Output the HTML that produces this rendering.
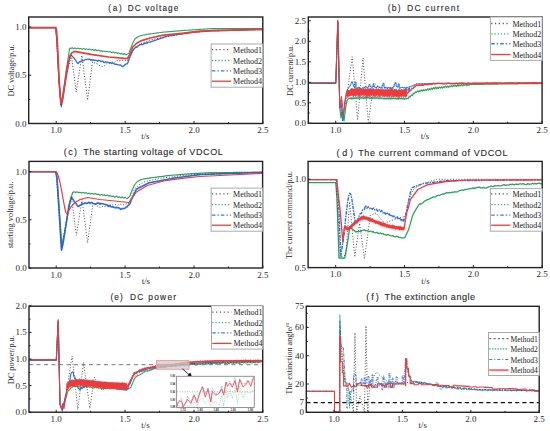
<!DOCTYPE html><html><head><meta charset="utf-8"><style>html,body{margin:0;padding:0;background:#fff;width:550px;height:431px;overflow:hidden}svg{display:block}</style></head><body>
<svg width="550" height="431" viewBox="0 0 550 431">
<rect width="550" height="431" fill="#fff"/>
<defs><clipPath id="ca"><rect x="28.7" y="17" width="234.1" height="106.5"/></clipPath></defs>
<g clip-path="url(#ca)">
<polyline points="28.7,27.7 30.21,27.7 31.71,27.7 33.22,27.7 34.72,27.7 36.23,27.7 37.73,27.7 39.24,27.7 40.74,27.7 42.25,27.7 43.76,27.7 45.26,27.7 46.77,27.7 48.27,27.7 49.78,27.7 51.28,27.7 52.79,27.7 54.29,27.7 55.8,27.7 57,42 59,80 61,104 63,95 64.5,83.5 66,72 67.85,60.05 69.7,48.1 71.03,48.55 72.35,47.76 73.67,48.82 75,47.89 76.46,48.84 77.92,48.08 79.38,48.96 80.83,48.34 82.29,49.35 83.75,48.47 85.21,49.39 86.67,48.88 88.12,49.62 89.58,48.94 91.04,50.07 92.5,49.44 93.96,50.49 95.42,49.5 96.88,50.75 98.33,50.01 99.79,50.96 101.25,50.6 102.71,51.47 104.17,50.97 105.62,51.73 107.08,51.29 108.54,52.06 110,51.59 111.45,52.62 112.9,51.89 114.35,53.08 115.8,52.4 117.25,53.5 118.7,52.82 120.15,53.92 121.6,53.39 123.05,54.55 124.5,53.57 125.95,54.93 127.4,54.11 129,52.85 131,47.5 133,42.5 135,39 136.25,38 137.5,37 139.25,36.3 141,35.6 142.57,35.27 144.15,34.95 145.73,34.62 147.3,34.3 148.78,34.1 150.26,33.9 151.75,33.7 153.23,33.5 154.71,33.3 156.19,33.1 157.67,32.9 159.15,32.7 160.64,32.5 162.12,32.3 163.6,32.1 165.12,31.98 166.63,31.85 168.15,31.73 169.67,31.6 171.18,31.48 172.7,31.35 174.22,31.23 175.73,31.1 177.25,30.98 178.77,30.85 180.28,30.73 181.8,30.6 183.32,30.5 184.83,30.4 186.35,30.3 187.87,30.2 189.38,30.1 190.9,30 192.42,29.9 193.93,29.8 195.45,29.7 196.97,29.6 198.48,29.5 200,29.4 201.47,29.3 202.95,29.2 204.43,29.1 205.9,29 207.38,28.9 208.85,28.8 210.33,28.7 211.8,28.6 213.3,28.6 214.8,28.59 216.3,28.59 217.8,28.59 219.3,28.59 220.8,28.58 222.3,28.58 223.8,28.58 225.3,28.57 226.8,28.57 228.3,28.57 229.8,28.56 231.3,28.56 232.8,28.56 234.3,28.56 235.8,28.55 237.3,28.55 238.8,28.55 240.3,28.54 241.8,28.54 243.3,28.54 244.8,28.54 246.3,28.53 247.8,28.53 249.3,28.53 250.8,28.52 252.3,28.52 253.8,28.52 255.3,28.51 256.8,28.51 258.3,28.51 259.8,28.51 261.3,28.5 262.8,28.5" fill="none" stroke="#2ea35c" stroke-width="1.1" stroke-linejoin="round"/>
<polyline points="28.7,27.7 29.7,27.7 30.71,27.7 31.71,27.7 32.71,27.7 33.72,27.7 34.72,27.7 35.73,27.7 36.73,27.7 37.73,27.7 38.74,27.7 39.74,27.7 40.74,27.7 41.75,27.7 42.75,27.7 43.76,27.7 44.76,27.7 45.76,27.7 46.77,27.7 47.77,27.7 48.77,27.7 49.78,27.7 50.78,27.7 51.79,27.7 52.79,27.7 53.79,27.7 54.8,27.7 55.8,27.7 57,42 58,62 59,82 60.15,94.3 61.3,106.6 62.15,102.3 63,98 64,91.33 65,84.67 66,78 67,72.33 68,66.67 69,61 69.8,57.8 70.6,54.6 71.73,55.73 72.87,56.87 74,58 74.97,59.38 75.95,60.71 76.93,62.35 77.9,63.73 78.93,62.37 79.95,61.57 80.97,61.45 82,60.68 83,60.98 84,60.37 85,59.79 86,59.28 86.97,59.55 87.95,58.96 88.92,59.5 89.89,59.23 90.87,60.4 91.84,59.34 92.81,60.53 93.79,59.62 94.76,60.6 95.73,60.24 96.71,60.46 97.68,61.2 98.65,60.17 99.63,60.36 100.6,61.68 101.61,61.32 102.62,60.94 103.64,62.4 104.65,62.55 105.66,61.59 106.67,62.23 107.69,62.03 108.7,62.49 109.71,63.13 110.72,62.69 111.74,63.64 112.75,62.95 113.76,63.32 114.77,64.43 115.79,64.05 116.8,64.29 117.75,64.8 118.7,64.9 119.65,65.04 120.6,64.81 121.55,66.05 122.5,66.65 123.48,66.17 124.46,65.23 125.44,64.3 126.42,63.81 127.4,63.77 128.43,61.29 129.47,58.06 130.5,55.78 131.53,53.51 132.57,51.27 133.6,49.23 134.67,48.17 135.73,46.87 136.8,47.35 137.87,46.17 138.93,45.66 140,44.61 141,44.62 142,44.29 143,44.55 144,43.33 145,43.68 146,42.88 147,43.33 148,42.13 149,42.19 150.02,42.14 151.03,41.79 152.05,41.43 153.07,41.08 154.08,40.72 155.1,40.37 156.12,40.01 157.13,39.66 158.15,39.3 159.17,38.94 160.18,38.59 161.2,38.23 162.22,37.88 163.23,37.52 164.25,37.17 165.27,36.81 166.28,36.46 167.3,36.1 168.28,35.95 169.27,35.8 170.25,35.65 171.23,35.5 172.22,35.35 173.2,35.2 174.18,35.05 175.17,34.9 176.15,34.75 177.13,34.6 178.12,34.45 179.1,34.3 180.08,34.15 181.07,34 182.05,33.85 183.03,33.7 184.02,33.55 185,33.4 185.98,33.25 186.97,33.1 187.95,32.95 188.93,32.8 189.92,32.65 190.9,32.5 191.91,32.42 192.91,32.34 193.92,32.26 194.92,32.18 195.93,32.11 196.93,32.03 197.94,31.95 198.94,31.87 199.95,31.79 200.95,31.71 201.96,31.63 202.96,31.55 203.97,31.47 204.97,31.39 205.98,31.32 206.98,31.24 207.99,31.16 208.99,31.08 210,31 211,30.97 211.99,30.94 212.99,30.92 213.98,30.89 214.98,30.86 215.98,30.83 216.97,30.8 217.97,30.77 218.97,30.75 219.96,30.72 220.96,30.69 221.95,30.66 222.95,30.63 223.95,30.6 224.94,30.58 225.94,30.55 226.94,30.52 227.93,30.49 228.93,30.46 229.92,30.43 230.92,30.41 231.92,30.38 232.91,30.35 233.91,30.32 234.91,30.29 235.9,30.26 236.9,30.24 237.89,30.21 238.89,30.18 239.89,30.15 240.88,30.12 241.88,30.09 242.88,30.07 243.87,30.04 244.87,30.01 245.86,29.98 246.86,29.95 247.86,29.92 248.85,29.9 249.85,29.87 250.85,29.84 251.84,29.81 252.84,29.78 253.83,29.75 254.83,29.73 255.83,29.7 256.82,29.67 257.82,29.64 258.82,29.61 259.81,29.58 260.81,29.56 261.8,29.53 262.8,29.5" fill="none" stroke="#2d6de0" stroke-width="1.3" stroke-linejoin="round"/>
<polyline points="28.7,27.7 30.64,27.7 32.57,27.7 34.51,27.7 36.44,27.7 38.38,27.7 40.31,27.7 42.25,27.7 44.19,27.7 46.12,27.7 48.06,27.7 49.99,27.7 51.93,27.7 53.86,27.7 55.8,27.7 57.4,53.85 59,80 61,106 63.5,91.5 66,77 67.8,69.8 69.6,62.6 71.4,55.4 73.8,73.7 76.2,92 78.1,79.8 80,67.6 81.9,55.4 83.8,70.3 85.7,85.2 87.6,100.1 90.05,81 92.5,61.9 94.95,63.15 97.4,64.01 99.8,65.5 102.2,66.29 104.37,65.73 106.53,63.83 108.7,63.07 110.72,62.34 112.75,61.86 114.78,62.07 116.8,60.51 118.92,60.99 121.04,60.32 123.16,60.29 125.28,60.35 127.4,60.84 129.27,57.04 131.13,53.43 133,50 134.75,48.5 136.5,47 138.25,45.5 140,44 142,43.2 144,42.4 146,41.6 148,40.8 150,40 152,39.6 154,39.2 156,38.8 158,38.4 160,38 162,37.6 164,37.2 166,36.8 168,36.4 170,36 172,35.7 174,35.4 176,35.1 178,34.8 180,34.5 182,34.2 184,33.9 186,33.6 188,33.3 190,33 192,32.75 194,32.5 196,32.25 198,32 200,31.75 202,31.5 204,31.25 206,31 208,30.75 210,30.5 212.03,30.45 214.06,30.41 216.09,30.36 218.12,30.32 220.15,30.27 222.18,30.22 224.22,30.18 226.25,30.13 228.28,30.08 230.31,30.04 232.34,29.99 234.37,29.95 236.4,29.9 238.43,29.85 240.46,29.81 242.49,29.76 244.52,29.72 246.55,29.67 248.58,29.62 250.62,29.58 252.65,29.53 254.68,29.48 256.71,29.44 258.74,29.39 260.77,29.35 262.8,29.3" fill="none" stroke="#444" stroke-width="1.0" stroke-dasharray="1 1.8" stroke-linejoin="round"/>
<polyline points="28.7,27.7 55.8,27.7 56.5,30 57.5,45 59,78 60.2,97 61,102.8 62,101 63.5,92 65,82 66.5,72 68,63 70,56 72,52.6 74.6,51.4 80,52.3 92.5,54.6 108.7,57 127.4,58.7 130,54 132.7,47 137,43 141.8,40.6 150,38 163.6,35.2 181.8,33.4 200,31.2 211.8,30.6 262.8,29.3" fill="none" stroke="#ee3a3a" stroke-width="1.7" stroke-linejoin="round"/>
</g>
<rect x="28.7" y="17" width="234.1" height="106.5" fill="none" stroke="#222" stroke-width="1.4"/>
<line x1="56.2" y1="123.5" x2="56.2" y2="121" stroke="#222" stroke-width="1"/>
<text x="56.2" y="133.2" font-family="Liberation Serif" font-size="9" text-anchor="middle" fill="#2a2a2a" >1.0</text>
<line x1="125.1" y1="123.5" x2="125.1" y2="121" stroke="#222" stroke-width="1"/>
<text x="125.1" y="133.2" font-family="Liberation Serif" font-size="9" text-anchor="middle" fill="#2a2a2a" >1.5</text>
<line x1="194" y1="123.5" x2="194" y2="121" stroke="#222" stroke-width="1"/>
<text x="194" y="133.2" font-family="Liberation Serif" font-size="9" text-anchor="middle" fill="#2a2a2a" >2.0</text>
<line x1="262.9" y1="123.5" x2="262.9" y2="121" stroke="#222" stroke-width="1"/>
<text x="262.9" y="133.2" font-family="Liberation Serif" font-size="9" text-anchor="middle" fill="#2a2a2a" >2.5</text>
<line x1="90.65" y1="123.5" x2="90.65" y2="122" stroke="#222" stroke-width="1"/>
<line x1="159.55" y1="123.5" x2="159.55" y2="122" stroke="#222" stroke-width="1"/>
<line x1="228.45" y1="123.5" x2="228.45" y2="122" stroke="#222" stroke-width="1"/>
<line x1="28.7" y1="123.5" x2="31.2" y2="123.5" stroke="#222" stroke-width="1"/>
<text x="26.5" y="126.5" font-family="Liberation Serif" font-size="9" text-anchor="end" fill="#2a2a2a" >0.0</text>
<line x1="28.7" y1="75.25" x2="31.2" y2="75.25" stroke="#222" stroke-width="1"/>
<text x="26.5" y="78.25" font-family="Liberation Serif" font-size="9" text-anchor="end" fill="#2a2a2a" >0.5</text>
<line x1="28.7" y1="27" x2="31.2" y2="27" stroke="#222" stroke-width="1"/>
<text x="26.5" y="30" font-family="Liberation Serif" font-size="9" text-anchor="end" fill="#2a2a2a" >1.0</text>
<line x1="28.7" y1="99.38" x2="30.2" y2="99.38" stroke="#222" stroke-width="1"/>
<line x1="28.7" y1="51.12" x2="30.2" y2="51.12" stroke="#222" stroke-width="1"/>
<text x="13.9" y="70.5" font-family="Liberation Serif" font-size="8.2" text-anchor="middle" fill="#2a2a2a" transform="rotate(-90 13.9 70.5)">DC voltage/p.u.</text>
<text x="145.4" y="139.1" font-family="Liberation Serif" font-size="8.8" text-anchor="middle" fill="#2a2a2a" >t/s</text>
<rect x="211.1" y="44" width="51.7" height="43.2" fill="#fff" stroke="#aaa" stroke-width="1"/>
<line x1="211.9" y1="49.6" x2="231.1" y2="49.6" stroke="#555" stroke-width="1.3" stroke-dasharray="1.2 2.6"/>
<text x="233.1" y="52.6" font-family="Liberation Serif" font-size="8.0" text-anchor="start" fill="#222" >Method1</text>
<line x1="211.9" y1="60.5" x2="231.1" y2="60.5" stroke="#3cb878" stroke-width="1.3" stroke-dasharray="1.3 1.9"/>
<text x="233.1" y="63.5" font-family="Liberation Serif" font-size="8.0" text-anchor="start" fill="#222" >Method2</text>
<line x1="211.9" y1="70.9" x2="231.1" y2="70.9" stroke="#3a7ae8" stroke-width="1.4" stroke-dasharray="3.5 2 1.5 2"/>
<text x="233.1" y="73.9" font-family="Liberation Serif" font-size="8.0" text-anchor="start" fill="#222" >Method3</text>
<line x1="211.9" y1="81.2" x2="231.1" y2="81.2" stroke="#ee3a3a" stroke-width="1.3"/>
<text x="233.1" y="84.2" font-family="Liberation Serif" font-size="8.0" text-anchor="start" fill="#222" >Method4</text>
<text x="108.3" y="10.9" font-family="Liberation Sans" font-size="8.2" fill="#2a2a2a" stroke="#2a2a2a" stroke-width="0.1" textLength="13.4" lengthAdjust="spacing">(a)</text>
<text x="127.7" y="10.9" font-family="Liberation Sans" font-size="8.2" fill="#2a2a2a" stroke="#2a2a2a" stroke-width="0.12" textLength="50.6" lengthAdjust="spacing">DC voltage</text>
<defs><clipPath id="cb"><rect x="308.3" y="17" width="233.8" height="106.3"/></clipPath></defs>
<g clip-path="url(#cb)">
<polyline points="308.3,83.3 309.28,83.3 310.26,83.3 311.25,83.3 312.23,83.3 313.21,83.3 314.19,83.3 315.18,83.3 316.16,83.3 317.14,83.3 318.12,83.3 319.1,83.3 320.09,83.3 321.07,83.3 322.05,83.3 323.03,83.3 324.01,83.3 325,83.3 325.98,83.3 326.96,83.3 327.94,83.3 328.93,83.3 329.91,83.3 330.89,83.3 331.87,83.3 332.85,83.3 333.84,83.3 334.82,83.3 335.8,83.3 336.8,52.65 337.8,22 338.8,65 339.8,108 341,118 341.75,114 342.5,110 343.25,115.5 344,121 345,113 346,105.45 347,101.02 348,99.2 349,97.82 350,98.86 351,97.54 352,99.06 353,97.57 354,98.78 355,97.6 356,98.4 357,97.41 358,98.59 359,97.46 360,98.59 361,97.33 362,98.33 363,97.48 364,98.78 365,97.14 366,98.75 367,97.25 368,98.34 369,97.44 370,98.63 371,97.6 372,98.91 373,97.5 374,98.52 375,97.3 376,98.55 377,97.28 378,98.76 379,97.52 380,98.75 381.01,97.59 382.02,98.69 383.03,97.86 384.04,99.09 385.06,97.79 386.07,99.07 387.08,97.83 388.09,99.2 389.1,97.49 390.11,99.12 391.12,97.59 392.13,99.05 393.14,97.64 394.16,98.83 395.17,97.81 396.18,99.24 397.19,97.98 398.2,99.33 399.21,97.64 400.22,99.08 401.23,97.95 402.24,99.13 403.26,97.97 404.27,99.45 405.28,98 406.29,98.96 407.3,98.19 408.31,98.59 409.32,96.19 410.33,96.96 411.34,94.95 412.36,95.48 413.37,93.3 414.38,93.79 415.39,91.87 416.4,92.46 417.41,90.9 418.41,91.86 419.42,90.75 420.42,91.55 421.43,89.94 422.43,91.15 423.44,89.72 424.44,90.73 425.45,89.58 426.46,90.2 427.46,88.8 428.47,90.18 429.47,88.64 430.48,89.73 431.48,88.08 432.49,89.45 433.49,87.52 434.5,88.78 435.51,87.18 436.52,88.83 437.53,87.15 438.54,88.55 439.56,86.96 440.57,88.03 441.58,86.85 442.59,88.06 443.6,86.65 444.61,87.38 445.62,86.06 446.63,87.51 447.64,85.99 448.66,87.3 449.67,85.98 450.68,86.74 451.69,85.61 452.7,86.59 453.71,85.46 454.72,86.23 455.73,85.21 456.74,86.51 457.76,84.69 458.77,86.26 459.78,84.8 460.79,85.83 461.8,84.37 462.81,85.81 463.82,84.33 464.83,85.38 465.84,84.44 466.86,85.65 467.87,83.96 468.88,85.5 469.89,83.9 470.9,84.5 471.9,84.48 472.91,84.47 473.91,84.45 474.91,84.43 475.92,84.41 476.92,84.4 477.92,84.38 478.93,84.36 479.93,84.34 480.93,84.33 481.94,84.31 482.94,84.29 483.94,84.28 484.95,84.26 485.95,84.24 486.96,84.22 487.96,84.21 488.96,84.19 489.97,84.17 490.97,84.16 491.97,84.14 492.98,84.12 493.98,84.1 494.98,84.09 495.99,84.07 496.99,84.05 497.99,84.03 499,84.02 500,84 501,83.99 502,83.98 503,83.96 504,83.95 505,83.94 506,83.93 507,83.92 508,83.9 509,83.89 510,83.88 511,83.87 512,83.86 513,83.85 514,83.83 515,83.82 516,83.81 517,83.8 518,83.79 519,83.77 520,83.76 521,83.75 522,83.74 523,83.73 524,83.71 525,83.7 526,83.69 527,83.68 528,83.67 529,83.65 530,83.64 531,83.63 532,83.62 533,83.61 534,83.6 535,83.58 536,83.57 537,83.56 538,83.55 539,83.54 540,83.52 541,83.51 542,83.5" fill="none" stroke="#2ea35c" stroke-width="1.2" stroke-linejoin="round"/>
<polyline points="308.3,83 309.28,83 310.26,83 311.25,83 312.23,83 313.21,83 314.19,83 315.18,83 316.16,83 317.14,83 318.12,83 319.1,83 320.09,83 321.07,83 322.05,83 323.03,83 324.01,83 325,83 325.98,83 326.96,83 327.94,83 328.93,83 329.91,83 330.89,83 331.87,83 332.85,83 333.84,83 334.82,83 335.8,83 336.8,52.5 337.8,22 338.8,65 339.8,108 341,100 341.85,110.5 342.7,121 343.85,110.5 345,100 346,95 347,90 348,88.67 349,87.33 350,86 351,83.75 352,81.5 353,84.25 354,87 355,87 355,82.04 356,82.04 356,88.28 357,88.28 357,88.22 358,88.22 358,87.3 359,87.3 359,87.46 360,87.46 360,89.26 361,89.26 361,89.24 362,89.24 362,87.9 363,87.9 363,87.94 364,87.94 364,87.52 365,87.52 365,86.81 366,86.81 366,86.9 367,86.9 367,87.93 368,87.93 368,86.63 369,86.63 369,84.54 370,84.54 370,86.45 371,86.45 371,87.21 372,87.21 372,87.06 373,87.06 373,84.29 374,84.29 374,86.88 375,86.88 375,87.27 376,87.27 376,87.48 377,87.48 377,86.54 378,86.54 378,86.97 379,86.97 379,87.04 380,87.04 380,87.92 381.01,87.92 381.01,87.82 382.02,87.82 382.02,85.46 383.03,85.46 383.03,83.29 384.04,83.29 384.04,87.47 385.06,87.47 385.06,87.17 386.07,87.17 386.07,88.01 387.08,88.01 387.08,87.91 388.09,87.91 388.09,87.42 389.1,87.42 389.1,88.19 390.11,88.19 390.11,87.38 391.12,87.38 391.12,90.31 392.13,90.31 392.13,87.64 393.14,87.64 393.14,86.72 394.16,86.72 394.16,84.05 395.17,84.05 395.17,82.7 396.18,82.7 396.18,86.28 397.19,86.28 397.19,87.09 398.2,87.09 398.2,83.93 399.21,83.93 399.21,88.3 400.22,88.3 400.22,87.76 401.23,87.76 401.23,87.19 402.24,87.19 402.24,87.5 403.26,87.5 403.26,88.06 404.27,88.06 404.27,87.41 405.28,87.41 405.28,90.02 406.29,90.02 406.29,87.07 407.3,87.07 407.3,87.65 408.31,87.65 408.31,90.83 409.32,90.83 409.32,86.26 410.33,86.53 411.34,86.11 412.36,85.69 413.37,85.27 414.38,84.84 415.39,84.42 416.4,84 417.41,83.96 418.41,83.92 419.42,83.88 420.42,83.84 421.43,83.81 422.43,83.77 423.44,83.73 424.44,83.69 425.45,83.65 426.46,83.61 427.46,83.57 428.47,83.53 429.47,83.49 430.48,83.46 431.48,83.42 432.49,83.38 433.49,83.34 434.5,83.3 435.5,83.3 436.49,83.3 437.49,83.3 438.48,83.3 439.48,83.3 440.47,83.29 441.47,83.29 442.46,83.29 443.46,83.29 444.45,83.29 445.45,83.29 446.44,83.29 447.44,83.29 448.44,83.29 449.43,83.29 450.43,83.29 451.42,83.28 452.42,83.28 453.41,83.28 454.41,83.28 455.4,83.28 456.4,83.28 457.39,83.28 458.39,83.28 459.38,83.28 460.38,83.28 461.38,83.28 462.37,83.27 463.37,83.27 464.36,83.27 465.36,83.27 466.35,83.27 467.35,83.27 468.34,83.27 469.34,83.27 470.33,83.27 471.33,83.27 472.32,83.26 473.32,83.26 474.31,83.26 475.31,83.26 476.31,83.26 477.3,83.26 478.3,83.26 479.29,83.26 480.29,83.26 481.28,83.26 482.28,83.26 483.27,83.25 484.27,83.25 485.26,83.25 486.26,83.25 487.25,83.25 488.25,83.25 489.25,83.25 490.24,83.25 491.24,83.25 492.23,83.25 493.23,83.25 494.22,83.24 495.22,83.24 496.21,83.24 497.21,83.24 498.2,83.24 499.2,83.24 500.19,83.24 501.19,83.24 502.19,83.24 503.18,83.24 504.18,83.24 505.17,83.23 506.17,83.23 507.16,83.23 508.16,83.23 509.15,83.23 510.15,83.23 511.14,83.23 512.14,83.23 513.13,83.23 514.13,83.23 515.12,83.22 516.12,83.22 517.12,83.22 518.11,83.22 519.11,83.22 520.1,83.22 521.1,83.22 522.09,83.22 523.09,83.22 524.08,83.22 525.08,83.22 526.07,83.21 527.07,83.21 528.06,83.21 529.06,83.21 530.06,83.21 531.05,83.21 532.05,83.21 533.04,83.21 534.04,83.21 535.03,83.21 536.03,83.21 537.02,83.2 538.02,83.2 539.01,83.2 540.01,83.2 541,83.2 542,83.2" fill="none" stroke="#2d6de0" stroke-width="1.0" stroke-linejoin="round"/>
<polyline points="352,95.24 353.22,96.78 354.43,95.27 355.65,96.39 356.87,95.43 358.09,96.57 359.3,95.48 360.52,96.44 361.74,95.66 362.96,96.61 364.17,95.66 365.39,96.63 366.61,95.77 367.83,96.47 369.04,95.46 370.26,96.65 371.48,95.57 372.7,96.82 373.91,95.66 375.13,96.51 376.35,95.48 377.57,96.79 378.78,95.56 380,96.82 381.18,95.43 382.36,96.72 383.55,95.56 384.73,96.75 385.91,95.67 387.09,96.92 388.27,95.82 389.45,96.67 390.64,95.78 391.82,97 393,95.75 394.18,96.9 395.36,95.75 396.55,96.8 397.73,96 398.91,96.89 400.09,95.72 401.27,96.86 402.45,96.08 403.64,96.84 404.82,96.15 406,96.95" fill="none" stroke="#2d6de0" stroke-width="0.9" stroke-linejoin="round"/>
<polyline points="308.3,83 335.8,83 337.8,22 339.8,108 343,115 347,95 352.2,56.7 357.6,120 363,58 368.3,122.5 373.8,82.8 380,88 407.3,90 416.4,84 434.5,83.5 542,83.2" fill="none" stroke="#444" stroke-width="0.9" stroke-dasharray="1 1.8" stroke-linejoin="round"/>
<polyline points="308.3,82.8 335.8,82.8 337.8,20 339.8,108.8 341.5,96.4 343.5,115 346.5,91.4 350,91 380,92.5 407.3,93 416.4,85.5 434.5,83.6 480,83.3 542,82.9" fill="none" stroke="#ee3a3a" stroke-width="1.0" stroke-linejoin="round"/>
<polygon points="347,91.17 347.83,90.33 348.67,90.36 349.5,90.38 350.33,89.96 351.17,88.01 352,89.05 352.8,88.33 353.6,89.12 354.4,88.5 355.2,89.06 356,88.04 356.8,89.22 357.6,87.8 358.4,88.95 359.2,88.03 360,89.09 360.8,88.52 361.6,88.87 362.4,89.13 363.2,88.87 364,88.29 364.8,89.17 365.6,88.84 366.4,89.18 367.2,88.29 368,89.08 368.8,88.36 369.6,89.12 370.4,87.98 371.2,89.25 372,88.16 372.8,89.53 373.6,88.17 374.4,89.68 375.2,89.02 376,89.62 376.8,88.23 377.6,89.5 378.4,88.56 379.2,89.4 380,88.99 380.79,89.75 381.59,88.86 382.38,89.85 383.18,88.87 383.97,89.97 384.76,89.44 385.56,89.54 386.35,89.21 387.15,89.71 387.94,89.07 388.74,89.59 389.53,89.34 390.32,90 391.12,88.39 391.91,89.87 392.71,89.43 393.5,90.19 394.29,89.08 395.09,89.9 395.88,89.03 396.68,89.89 397.47,90.25 398.26,89.94 399.06,89.87 399.85,90.02 400.65,89.7 401.44,90.18 402.24,89.85 403.03,89.99 403.82,89.4 404.62,90.28 405.41,89.02 406.21,90.38 407,89.24 407,95.95 406.21,96.67 405.41,95.99 404.62,96.25 403.82,96.23 403.03,95.86 402.24,96 401.44,96.85 400.65,95.93 399.85,96.32 399.06,95.97 398.26,97.44 397.47,95.72 396.68,97 395.88,95.84 395.09,96.47 394.29,95.65 393.5,96.71 392.71,95.9 391.91,95.59 391.12,95.83 390.32,96.07 389.53,95.9 388.74,96.41 387.94,95.81 387.15,96.53 386.35,95.72 385.56,96.1 384.76,95.92 383.97,96.95 383.18,95.45 382.38,96.09 381.59,95.35 380.79,95.46 380,95.84 379.2,97.04 378.4,95.43 377.6,95.31 376.8,95.23 376,96.56 375.2,95.24 374.4,96.57 373.6,95.64 372.8,95.2 372,95.37 371.2,95.42 370.4,95.32 369.6,96.72 368.8,95.05 368,96.72 367.2,95.42 366.4,96.52 365.6,95.18 364.8,95.54 364,94.98 363.2,95.58 362.4,94.89 361.6,94.92 360.8,95.23 360,96.14 359.2,95.22 358.4,96.32 357.6,95.02 356.8,94.84 356,95.12 355.2,94.94 354.4,95.24 353.6,96.42 352.8,94.96 352,95.76 351.17,95.45 350.33,95.92 349.5,96.25 348.67,96.22 347.83,96.73 347,97.68" fill="#ee3a3a" stroke="#ee3a3a" stroke-width="0.5" stroke-linejoin="round"/>
<polyline points="407,93.21 408.18,92.4 409.35,90.81 410.52,90.69 411.7,88.94 412.88,88.48 414.05,86.97 415.22,86.7 416.4,85.15 417.61,85.58 418.81,85.47 420.02,85.39 421.23,84.93 422.43,85.23 423.64,85.23 424.85,84.23 426.05,84.5 427.26,84.82 428.47,84.47 429.67,84.05 430.88,83.78 432.09,84.31 433.29,83.31 434.5,83.86 435.7,83.94 436.89,83.24 438.09,83.4 439.29,83.37 440.49,83.6 441.68,83.42 442.88,83.94 444.08,83.96 445.28,83.35 446.47,83.92 447.67,83.08 448.87,83.1 450.07,83.66 451.26,83.79 452.46,83.8 453.66,83.97 454.86,83.83 456.05,83.22 457.25,83.69 458.45,83.87 459.64,83.03 460.84,83.42 462.04,83.07 463.24,83.05 464.43,83.38 465.63,83.57 466.83,83.86 468.03,83.01 469.22,83.38 470.42,83.86 471.62,83.62 472.82,83.38 474.01,83.08 475.21,83.46 476.41,83.08 477.61,83.46 478.8,83.46 480,83.19 481.19,83.59 482.38,83.19 483.58,83.25 484.77,83.6 485.96,83.01 487.15,82.94 488.35,83.32 489.54,83.17 490.73,83.6 491.92,82.97 493.12,83.09 494.31,82.77 495.5,83.15 496.69,83 497.88,83.13 499.08,83.44 500.27,82.71 501.46,83.65 502.65,83.37 503.85,83.46 505.04,83.18 506.23,83.21 507.42,83.03 508.62,83.01 509.81,82.83 511,82.9 512.19,82.89 513.38,82.92 514.58,83.48 515.77,83.37 516.96,83.2 518.15,82.57 519.35,82.81 520.54,83.08 521.73,83.22 522.92,82.94 524.12,83.15 525.31,83.41 526.5,82.77 527.69,82.87 528.88,83.24 530.08,82.8 531.27,83.19 532.46,82.86 533.65,82.47 534.85,82.91 536.04,82.51 537.23,83.22 538.42,83.27 539.62,82.94 540.81,83.31 542,82.61" fill="none" stroke="#ee3a3a" stroke-width="1.3" stroke-linejoin="round"/>
</g>
<rect x="308.3" y="17" width="233.8" height="106.3" fill="none" stroke="#222" stroke-width="1.4"/>
<line x1="335.7" y1="123.3" x2="335.7" y2="120.8" stroke="#222" stroke-width="1"/>
<text x="335.7" y="133" font-family="Liberation Serif" font-size="9" text-anchor="middle" fill="#2a2a2a" >1.0</text>
<line x1="404.5" y1="123.3" x2="404.5" y2="120.8" stroke="#222" stroke-width="1"/>
<text x="404.5" y="133" font-family="Liberation Serif" font-size="9" text-anchor="middle" fill="#2a2a2a" >1.5</text>
<line x1="473.3" y1="123.3" x2="473.3" y2="120.8" stroke="#222" stroke-width="1"/>
<text x="473.3" y="133" font-family="Liberation Serif" font-size="9" text-anchor="middle" fill="#2a2a2a" >2.0</text>
<line x1="542.1" y1="123.3" x2="542.1" y2="120.8" stroke="#222" stroke-width="1"/>
<text x="542.1" y="133" font-family="Liberation Serif" font-size="9" text-anchor="middle" fill="#2a2a2a" >2.5</text>
<line x1="370.1" y1="123.3" x2="370.1" y2="121.8" stroke="#222" stroke-width="1"/>
<line x1="438.9" y1="123.3" x2="438.9" y2="121.8" stroke="#222" stroke-width="1"/>
<line x1="507.7" y1="123.3" x2="507.7" y2="121.8" stroke="#222" stroke-width="1"/>
<line x1="308.3" y1="123.3" x2="310.8" y2="123.3" stroke="#222" stroke-width="1"/>
<text x="306.1" y="126.3" font-family="Liberation Serif" font-size="9" text-anchor="end" fill="#2a2a2a" >0.0</text>
<line x1="308.3" y1="102.8" x2="310.8" y2="102.8" stroke="#222" stroke-width="1"/>
<text x="306.1" y="105.8" font-family="Liberation Serif" font-size="9" text-anchor="end" fill="#2a2a2a" >0.5</text>
<line x1="308.3" y1="82.3" x2="310.8" y2="82.3" stroke="#222" stroke-width="1"/>
<text x="306.1" y="85.3" font-family="Liberation Serif" font-size="9" text-anchor="end" fill="#2a2a2a" >1.0</text>
<line x1="308.3" y1="61.8" x2="310.8" y2="61.8" stroke="#222" stroke-width="1"/>
<text x="306.1" y="64.8" font-family="Liberation Serif" font-size="9" text-anchor="end" fill="#2a2a2a" >1.5</text>
<line x1="308.3" y1="41.3" x2="310.8" y2="41.3" stroke="#222" stroke-width="1"/>
<text x="306.1" y="44.3" font-family="Liberation Serif" font-size="9" text-anchor="end" fill="#2a2a2a" >2.0</text>
<line x1="308.3" y1="20.8" x2="310.8" y2="20.8" stroke="#222" stroke-width="1"/>
<text x="306.1" y="23.8" font-family="Liberation Serif" font-size="9" text-anchor="end" fill="#2a2a2a" >2.5</text>
<line x1="308.3" y1="113.05" x2="309.8" y2="113.05" stroke="#222" stroke-width="1"/>
<line x1="308.3" y1="92.55" x2="309.8" y2="92.55" stroke="#222" stroke-width="1"/>
<line x1="308.3" y1="72.05" x2="309.8" y2="72.05" stroke="#222" stroke-width="1"/>
<line x1="308.3" y1="51.55" x2="309.8" y2="51.55" stroke="#222" stroke-width="1"/>
<line x1="308.3" y1="31.05" x2="309.8" y2="31.05" stroke="#222" stroke-width="1"/>
<text x="293.2" y="70.4" font-family="Liberation Serif" font-size="8.2" text-anchor="middle" fill="#2a2a2a" transform="rotate(-90 293.2 70.4)">DC current/p.u.</text>
<text x="425" y="138.8" font-family="Liberation Serif" font-size="8.8" text-anchor="middle" fill="#2a2a2a" >t/s</text>
<rect x="490.4" y="17" width="51.7" height="43.4" fill="#fff" stroke="#aaa" stroke-width="1"/>
<line x1="491.2" y1="23.5" x2="510.4" y2="23.5" stroke="#555" stroke-width="1.3" stroke-dasharray="1.2 2.6"/>
<text x="512.4" y="26.5" font-family="Liberation Serif" font-size="8.0" text-anchor="start" fill="#222" >Method1</text>
<line x1="491.2" y1="33.9" x2="510.4" y2="33.9" stroke="#3cb878" stroke-width="1.3" stroke-dasharray="1.3 1.9"/>
<text x="512.4" y="36.9" font-family="Liberation Serif" font-size="8.0" text-anchor="start" fill="#222" >Method2</text>
<line x1="491.2" y1="43.8" x2="510.4" y2="43.8" stroke="#3a7ae8" stroke-width="1.4" stroke-dasharray="3.5 2 1.5 2"/>
<text x="512.4" y="46.8" font-family="Liberation Serif" font-size="8.0" text-anchor="start" fill="#222" >Method3</text>
<line x1="491.2" y1="54.5" x2="510.4" y2="54.5" stroke="#ee3a3a" stroke-width="1.3"/>
<text x="512.4" y="57.5" font-family="Liberation Serif" font-size="8.0" text-anchor="start" fill="#222" >Method4</text>
<text x="387.7" y="11.3" font-family="Liberation Sans" font-size="8.5" fill="#2a2a2a" stroke="#2a2a2a" stroke-width="0.1" textLength="13" lengthAdjust="spacing">(b)</text>
<text x="407.1" y="11.3" font-family="Liberation Sans" font-size="8.5" fill="#2a2a2a" stroke="#2a2a2a" stroke-width="0.12" textLength="51.9" lengthAdjust="spacing">DC current</text>
<defs><clipPath id="cc"><rect x="29" y="161.4" width="233.6" height="106.6"/></clipPath></defs>
<g clip-path="url(#cc)">
<polyline points="29,171.7 30.49,171.7 31.98,171.7 33.47,171.7 34.96,171.7 36.44,171.7 37.93,171.7 39.42,171.7 40.91,171.7 42.4,171.7 43.89,171.7 45.38,171.7 46.87,171.7 48.36,171.7 49.84,171.7 51.33,171.7 52.82,171.7 54.31,171.7 55.8,171.7 57,178 59,205 60.4,225 61.8,245 64,236 65.5,227.5 67,219 68.5,210.5 70,202 71.35,197 72.7,192.24 74.16,191.82 75.62,192.58 77.08,191.81 78.54,192.69 80,192.22 81.54,192.98 83.08,192.31 84.62,193.28 86.15,192.64 87.69,193.79 89.23,193.18 90.77,194.06 92.31,193.39 93.85,194.34 95.38,193.52 96.92,194.55 98.46,194.19 100,195.18 101.48,194.41 102.97,195.3 104.45,194.83 105.94,195.75 107.42,194.99 108.91,196.08 110.39,195.65 111.87,196.61 113.36,195.92 114.84,197.13 116.33,196.2 117.81,197.3 119.29,196.82 120.78,197.87 122.26,196.93 123.75,197.97 125.23,197.41 126.72,198.66 128.2,197.83 130,195.82 132,190.5 133.25,187.75 134.5,185 135.9,183.25 137.3,181.5 139.15,180.55 141,179.6 142.57,179.28 144.15,178.95 145.73,178.62 147.3,178.3 148.85,178.1 150.4,177.9 151.95,177.7 153.5,177.5 155.05,177.3 156.6,177.1 158.15,176.9 159.7,176.7 161.25,176.5 162.8,176.3 164.35,176.1 165.9,175.9 167.45,175.7 169,175.5 170.47,175.38 171.93,175.26 173.4,175.14 174.87,175.02 176.33,174.9 177.8,174.78 179.27,174.66 180.73,174.54 182.2,174.42 183.67,174.3 185.13,174.18 186.6,174.06 188.07,173.94 189.53,173.82 191,173.7 192.54,173.62 194.08,173.53 195.62,173.45 197.15,173.36 198.69,173.28 200.23,173.19 201.77,173.11 203.31,173.02 204.85,172.94 206.38,172.85 207.92,172.77 209.46,172.68 211,172.6 212.52,172.59 214.04,172.58 215.55,172.57 217.07,172.56 218.59,172.56 220.11,172.55 221.62,172.54 223.14,172.53 224.66,172.52 226.18,172.51 227.69,172.5 229.21,172.49 230.73,172.49 232.25,172.48 233.76,172.47 235.28,172.46 236.8,172.45 238.32,172.44 239.84,172.43 241.35,172.42 242.87,172.41 244.39,172.41 245.91,172.4 247.42,172.39 248.94,172.38 250.46,172.37 251.98,172.36 253.49,172.35 255.01,172.34 256.53,172.34 258.05,172.33 259.56,172.32 261.08,172.31 262.6,172.3" fill="none" stroke="#2ea35c" stroke-width="1.2" stroke-linejoin="round"/>
<polyline points="29,171.7 29.99,171.7 30.99,171.7 31.98,171.7 32.97,171.7 33.96,171.7 34.96,171.7 35.95,171.7 36.94,171.7 37.93,171.7 38.93,171.7 39.92,171.7 40.91,171.7 41.9,171.7 42.9,171.7 43.89,171.7 44.88,171.7 45.87,171.7 46.87,171.7 47.86,171.7 48.85,171.7 49.84,171.7 50.84,171.7 51.83,171.7 52.82,171.7 53.81,171.7 54.81,171.7 55.8,171.7 57,178 58,194 59,210 60.25,230.15 61.5,250.3 62.25,247.15 63,244 64,237.67 65,231.33 66,225 67,218.33 68,211.67 69,205 70.2,201 71.4,197 72.27,198.33 73.13,199.67 74,201 74.9,202.35 75.8,203.11 76.7,204.65 77.6,206.12 78.66,206.43 79.71,205.34 80.77,205.12 81.83,203.73 82.89,203.77 83.94,203.71 85,202.73 86,203.39 87,203.37 88,202.72 89,202.27 90,203.39 91,202.58 92,202.48 93,203.56 94,203.78 95,203.84 96,204.07 97,203.08 98,202.98 99,203.1 100,204.37 100.99,203.4 101.97,203.7 102.96,203.75 103.95,204.03 104.93,204.25 105.92,204.93 106.91,204.9 107.9,205.35 108.88,206.45 109.87,205.63 110.86,206.77 111.84,206.9 112.83,206.9 113.82,207.15 114.8,207.67 115.79,207.65 116.78,207.39 117.77,207.77 118.75,207.89 119.74,208.34 120.73,209.4 121.71,208.86 122.7,208.6 123.75,208.55 124.8,208.4 125.85,207.27 126.9,207.02 127.95,205.54 129,204.89 130.06,203.4 131.11,200.21 132.17,198.24 133.23,196.02 134.29,193.43 135.34,191.53 136.4,189.2 137.37,188.71 138.34,188.22 139.31,187.72 140.28,187.23 141.25,186.74 142.22,186.25 143.18,185.75 144.15,185.26 145.12,184.77 146.09,184.28 147.06,183.78 148.03,183.29 149,182.8 149.99,182.61 150.97,182.43 151.96,182.24 152.95,182.05 153.94,181.86 154.93,181.68 155.91,181.49 156.9,181.3 157.89,181.11 158.88,180.93 159.86,180.74 160.85,180.55 161.84,180.36 162.82,180.18 163.81,179.99 164.8,179.8 165.79,179.61 166.77,179.43 167.76,179.24 168.75,179.05 169.74,178.86 170.72,178.68 171.71,178.49 172.7,178.3 173.71,178.16 174.72,178.03 175.73,177.89 176.74,177.75 177.76,177.61 178.77,177.48 179.78,177.34 180.79,177.2 181.8,177.07 182.81,176.93 183.82,176.79 184.83,176.66 185.84,176.52 186.86,176.38 187.87,176.24 188.88,176.11 189.89,175.97 190.9,175.83 191.91,175.7 192.92,175.56 193.93,175.42 194.94,175.29 195.96,175.15 196.97,175.01 197.98,174.87 198.99,174.74 200,174.6 200.99,174.56 201.99,174.53 202.98,174.49 203.97,174.45 204.97,174.42 205.96,174.38 206.96,174.34 207.95,174.31 208.94,174.27 209.94,174.23 210.93,174.2 211.92,174.16 212.92,174.13 213.91,174.09 214.9,174.05 215.9,174.02 216.89,173.98 217.89,173.94 218.88,173.91 219.87,173.87 220.87,173.83 221.86,173.8 222.85,173.76 223.85,173.72 224.84,173.69 225.83,173.65 226.83,173.61 227.82,173.58 228.82,173.54 229.81,173.5 230.8,173.47 231.8,173.43 232.79,173.4 233.78,173.36 234.78,173.32 235.77,173.29 236.77,173.25 237.76,173.21 238.75,173.18 239.75,173.14 240.74,173.1 241.73,173.07 242.73,173.03 243.72,172.99 244.71,172.96 245.71,172.92 246.7,172.88 247.7,172.85 248.69,172.81 249.68,172.77 250.68,172.74 251.67,172.7 252.66,172.67 253.66,172.63 254.65,172.59 255.64,172.56 256.64,172.52 257.63,172.48 258.63,172.45 259.62,172.41 260.61,172.37 261.61,172.34 262.6,172.3" fill="none" stroke="#2d6de0" stroke-width="1.6" stroke-linejoin="round"/>
<polyline points="29,171.7 31.06,171.7 33.12,171.7 35.18,171.7 37.25,171.7 39.31,171.7 41.37,171.7 43.43,171.7 45.49,171.7 47.55,171.7 49.62,171.7 51.68,171.7 53.74,171.7 55.8,171.7 57.4,190.85 59,210 61.5,248 63.75,235 66,222 67.8,213.67 69.6,205.33 71.4,197 73.9,216.2 76.4,235.4 78.27,223.43 80.13,211.47 82,199.5 83.87,213.97 85.73,228.43 87.6,242.9 89.4,229.67 91.2,216.43 93,203.2 94.75,204.25 96.5,205.41 98.25,206.56 100,207.91 102,206.56 104,206.68 106,206.59 108,206.13 110,204.5 111.9,205.11 113.8,204.93 115.7,204.62 117.6,205.23 119.5,204.4 121.4,204.13 123.3,204.8 125.2,204.18 127.1,203.51 129,203.39 130.5,199.85 132,196 134.5,189 136.33,187.33 138.17,185.67 140,184 141.83,183.17 143.67,182.33 145.5,181.5 147.57,181.04 149.64,180.59 151.71,180.13 153.79,179.67 155.86,179.21 157.93,178.76 160,178.3 162,178.05 164,177.8 166,177.55 168,177.3 170,177.05 172,176.8 174,176.55 176,176.3 178,176.05 180,175.8 182,175.62 184,175.44 186,175.26 188,175.08 190,174.9 192,174.72 194,174.54 196,174.36 198,174.18 200,174 202.02,173.95 204.04,173.9 206.06,173.85 208.08,173.81 210.1,173.76 212.12,173.71 214.14,173.66 216.15,173.61 218.17,173.56 220.19,173.52 222.21,173.47 224.23,173.42 226.25,173.37 228.27,173.32 230.29,173.27 232.31,173.23 234.33,173.18 236.35,173.13 238.37,173.08 240.39,173.03 242.41,172.98 244.43,172.94 246.45,172.89 248.46,172.84 250.48,172.79 252.5,172.74 254.52,172.69 256.54,172.65 258.56,172.6 260.58,172.55 262.6,172.5" fill="none" stroke="#444" stroke-width="0.9" stroke-dasharray="1 1.8" stroke-linejoin="round"/>
<polyline points="29,171.7 55.8,171.7 57,172.8 58.5,176.5 60,182.5 61.5,190 63,198.5 64.5,206.5 65.8,212.5 66.8,213.8 68,212.5 69.5,209.5 71.4,206.3 75,202.5 80.1,199.5 87.6,197.5 100,199.5 129,202.5 136.4,191.9 147.3,185.5 163.6,181 181.8,178.3 200,176.5 230,175 262.6,173.3" fill="none" stroke="#ee3a3a" stroke-width="1.2" stroke-linejoin="round"/>
</g>
<rect x="29" y="161.4" width="233.6" height="106.6" fill="none" stroke="#222" stroke-width="1.4"/>
<line x1="56.2" y1="268" x2="56.2" y2="265.5" stroke="#222" stroke-width="1"/>
<text x="56.2" y="277.7" font-family="Liberation Serif" font-size="9" text-anchor="middle" fill="#2a2a2a" >1.0</text>
<line x1="125.1" y1="268" x2="125.1" y2="265.5" stroke="#222" stroke-width="1"/>
<text x="125.1" y="277.7" font-family="Liberation Serif" font-size="9" text-anchor="middle" fill="#2a2a2a" >1.5</text>
<line x1="194" y1="268" x2="194" y2="265.5" stroke="#222" stroke-width="1"/>
<text x="194" y="277.7" font-family="Liberation Serif" font-size="9" text-anchor="middle" fill="#2a2a2a" >2.0</text>
<line x1="262.9" y1="268" x2="262.9" y2="265.5" stroke="#222" stroke-width="1"/>
<text x="262.9" y="277.7" font-family="Liberation Serif" font-size="9" text-anchor="middle" fill="#2a2a2a" >2.5</text>
<line x1="90.65" y1="268" x2="90.65" y2="266.5" stroke="#222" stroke-width="1"/>
<line x1="159.55" y1="268" x2="159.55" y2="266.5" stroke="#222" stroke-width="1"/>
<line x1="228.45" y1="268" x2="228.45" y2="266.5" stroke="#222" stroke-width="1"/>
<line x1="29" y1="268" x2="31.5" y2="268" stroke="#222" stroke-width="1"/>
<text x="26.8" y="271" font-family="Liberation Serif" font-size="9" text-anchor="end" fill="#2a2a2a" >0.0</text>
<line x1="29" y1="219.8" x2="31.5" y2="219.8" stroke="#222" stroke-width="1"/>
<text x="26.8" y="222.8" font-family="Liberation Serif" font-size="9" text-anchor="end" fill="#2a2a2a" >0.5</text>
<line x1="29" y1="171.6" x2="31.5" y2="171.6" stroke="#222" stroke-width="1"/>
<text x="26.8" y="174.6" font-family="Liberation Serif" font-size="9" text-anchor="end" fill="#2a2a2a" >1.0</text>
<line x1="29" y1="243.9" x2="30.5" y2="243.9" stroke="#222" stroke-width="1"/>
<line x1="29" y1="195.7" x2="30.5" y2="195.7" stroke="#222" stroke-width="1"/>
<text x="13.4" y="215" font-family="Liberation Serif" font-size="8.4" text-anchor="middle" fill="#2a2a2a" transform="rotate(-90 13.4 215)">starting voltage/p.u.</text>
<text x="145.9" y="283.6" font-family="Liberation Serif" font-size="8.8" text-anchor="middle" fill="#2a2a2a" >t/s</text>
<rect x="211.1" y="188.1" width="51.5" height="43.1" fill="#fff" stroke="#aaa" stroke-width="1"/>
<line x1="211.9" y1="193.9" x2="231.1" y2="193.9" stroke="#555" stroke-width="1.3" stroke-dasharray="1.2 2.6"/>
<text x="233.1" y="196.9" font-family="Liberation Serif" font-size="8.0" text-anchor="start" fill="#222" >Method1</text>
<line x1="211.9" y1="204.6" x2="231.1" y2="204.6" stroke="#3cb878" stroke-width="1.3" stroke-dasharray="1.3 1.9"/>
<text x="233.1" y="207.6" font-family="Liberation Serif" font-size="8.0" text-anchor="start" fill="#222" >Method2</text>
<line x1="211.9" y1="215.1" x2="231.1" y2="215.1" stroke="#3a7ae8" stroke-width="1.4" stroke-dasharray="3.5 2 1.5 2"/>
<text x="233.1" y="218.1" font-family="Liberation Serif" font-size="8.0" text-anchor="start" fill="#222" >Method3</text>
<line x1="211.9" y1="225.2" x2="231.1" y2="225.2" stroke="#ee3a3a" stroke-width="1.3"/>
<text x="233.1" y="228.2" font-family="Liberation Serif" font-size="8.0" text-anchor="start" fill="#222" >Method4</text>
<text x="63.8" y="155.3" font-family="Liberation Sans" font-size="9" fill="#2a2a2a" stroke="#2a2a2a" stroke-width="0.1" textLength="13.3" lengthAdjust="spacing">(c)</text>
<text x="83.3" y="155.3" font-family="Liberation Sans" font-size="9" fill="#2a2a2a" stroke="#2a2a2a" stroke-width="0.12" textLength="139.5" lengthAdjust="spacing">The starting voltage of VDCOL</text>
<defs><clipPath id="cd"><rect x="308.1" y="161.4" width="234.1" height="106.2"/></clipPath></defs>
<g clip-path="url(#cd)">
<polyline points="308.1,182.6 309.3,182.6 310.51,182.6 311.71,182.6 312.92,182.6 314.12,182.6 315.33,182.6 316.53,182.6 317.73,182.6 318.94,182.6 320.14,182.6 321.35,182.6 322.55,182.6 323.76,182.6 324.96,182.6 326.17,182.6 327.37,182.6 328.57,182.6 329.78,182.6 330.98,182.6 332.19,182.6 333.39,182.6 334.6,182.6 335.8,182.6 337,200 338,229 339,258 340.16,258 341.32,258 342.48,258 343.64,258 344.8,258 346.25,249.86 347.7,241.68 348.7,234.25 349.7,227.8 351.1,228.24 352.5,229.23 353.53,229.96 354.57,230.66 355.6,231.98 356.87,231.59 358.14,231.64 359.41,231.29 360.69,231.31 361.96,230.63 363.23,230.09 364.5,229.88 365.73,230.81 366.96,230.39 368.19,231.21 369.41,231.42 370.64,230.99 371.87,232.1 373.1,231.44 374.33,232.68 375.56,232.89 376.79,232.39 378.01,233.24 379.24,233.49 380.47,233.01 381.7,233.9 382.93,233.5 384.16,234.69 385.39,234.67 386.62,235.26 387.85,234.4 389.08,234.96 390.31,235.57 391.54,235.81 392.76,235.54 393.99,236.64 395.22,236.83 396.45,236.43 397.68,236.49 398.91,237.36 400.14,237.29 401.37,237.85 402.6,237.89 403.7,237.97 404.8,237.73 406.07,234.9 407.33,232.32 408.6,229.67 409.75,225.36 410.9,221.79 412.05,217.6 413.2,214.06 414.5,211.93 415.8,209.67 417.1,207.59 418.4,205.64 419.7,203.75 420.93,204.01 422.17,203.31 423.4,202.43 424.63,200.94 425.87,200.88 427.1,199.52 428.33,199.71 429.57,198.71 430.8,198.1 432.04,197.55 433.28,196.94 434.52,197.07 435.77,196.82 437.01,195.57 438.25,195.42 439.49,195.4 440.73,194.95 441.98,194.24 443.22,193.91 444.46,194.14 445.7,192.93 446.93,192.66 448.17,193.05 449.4,192.37 450.63,192.92 451.87,192.05 453.1,192.58 454.33,191.73 455.57,192.15 456.8,191.8 457.96,191.55 459.13,190.7 460.29,190.42 461.45,190.03 462.62,189.98 463.78,190.34 464.95,189.39 466.11,189.37 467.27,189.53 468.44,188.81 469.6,188.79 470.78,188.42 471.95,188.71 473.12,187.79 474.3,188.6 475.48,187.87 476.65,187.76 477.82,187.31 479,187 480.12,187.76 481.24,187.87 482.36,187.99 483.48,187.24 484.6,188.11 485.95,188.16 487.3,187.42 488.65,186.89 490,186.68 491.18,185.99 492.35,186.54 493.53,186.49 494.71,185.52 495.88,185.92 497.06,185.91 498.24,185.5 499.41,185.78 500.59,185.95 501.76,185.81 502.94,184.98 504.12,184.67 505.29,185.4 506.47,184.99 507.65,185.13 508.82,185.06 510,184.24 511.19,184.57 512.39,184.19 513.58,184.75 514.77,184.58 515.96,184 517.16,184.28 518.35,184.35 519.54,183.88 520.73,183.79 521.93,184.1 523.12,183.58 524.31,184.05 525.5,184.55 526.7,184.37 527.89,183.41 529.08,184.3 530.27,184.13 531.47,184.08 532.66,183.23 533.85,184.07 535.04,183.36 536.24,184.05 537.43,183.44 538.62,183.45 539.81,183.18 541.01,183.98 542.2,183.5" fill="none" stroke="#2ea35c" stroke-width="1.3" stroke-linejoin="round"/>
<polyline points="308.1,179.6 335.8,179.6 337,195 340.3,257 345.8,255 349.7,201.7 354.7,257 359.6,223.4 364.5,258.9 370.4,215.5 376,213 384.5,223.3 395,219 405.4,216.3 409,200 413,190 420,185 436.4,179.3 542.2,179.3" fill="none" stroke="#444" stroke-width="0.9" stroke-dasharray="1 1.8" stroke-linejoin="round"/>
<polyline points="308.1,179.6 309.41,179.6 310.72,179.6 312.03,179.6 313.34,179.6 314.65,179.6 315.95,179.6 317.26,179.6 318.57,179.6 319.88,179.6 321.19,179.6 322.5,179.6 323.81,179.6 325.12,179.6 326.43,179.6 327.74,179.6 329.05,179.6 330.35,179.6 331.66,179.6 332.97,179.6 334.28,179.6 335.59,179.6 336.9,179.6 338.5,200 339.65,228 340.8,256 342.4,245.5 344,235 345,225 346,215 347.5,203 348.7,196 349.7,193.2 350.8,194.5 352,200 353.5,211 355.2,222 356.5,223.5 357.55,220 358.6,217.52 359.98,213.98 361.36,213.27 362.74,209.87 364.12,209.67 365.5,205.55 366.85,208.22 368.2,206.81 369.55,208.65 370.9,207.66 372.25,209.29 373.6,208.09 374.95,209.94 376.3,209.12 377.65,211.23 379,209.65 380.35,211.69 381.7,210.42 382.95,213.07 384.2,211.91 385.45,214.1 386.7,212.4 387.95,214.77 389.2,213.86 390.53,216.32 391.87,214.83 393.2,216.76 394.53,216.13 395.87,218.46 397.2,216.84 398.53,219.54 399.87,217.86 401.2,220.44 402.35,218.97 403.5,221.82 404.5,217.55 405.5,216 406.5,211 407.5,206 408.55,201 409.6,196 411,190 412.3,187.6 413.53,187.13 414.77,186.67 416,186.2 417.23,185.73 418.47,185.27 419.7,184.8 420.93,184.33 422.17,183.87 423.4,183.4 424.71,183.25 426.02,183.09 427.34,182.94 428.65,182.79 429.96,182.64 431.27,182.48 432.58,182.33 433.89,182.18 435.21,182.02 436.52,181.87 437.83,181.72 439.14,181.56 440.45,181.41 441.76,181.26 443.08,181.11 444.39,180.95 445.7,180.8 447,180.79 448.31,180.77 449.61,180.76 450.92,180.75 452.22,180.73 453.52,180.72 454.83,180.71 456.13,180.69 457.44,180.68 458.74,180.66 460.04,180.65 461.35,180.64 462.65,180.62 463.96,180.61 465.26,180.6 466.56,180.58 467.87,180.57 469.17,180.56 470.48,180.54 471.78,180.53 473.09,180.52 474.39,180.5 475.69,180.49 477,180.48 478.3,180.46 479.61,180.45 480.91,180.44 482.21,180.42 483.52,180.41 484.82,180.39 486.13,180.38 487.43,180.37 488.73,180.35 490.04,180.34 491.34,180.33 492.65,180.31 493.95,180.3 495.25,180.29 496.56,180.27 497.86,180.26 499.17,180.25 500.47,180.23 501.77,180.22 503.08,180.21 504.38,180.19 505.69,180.18 506.99,180.16 508.29,180.15 509.6,180.14 510.9,180.12 512.21,180.11 513.51,180.1 514.81,180.08 516.12,180.07 517.42,180.06 518.73,180.04 520.03,180.03 521.34,180.02 522.64,180 523.94,179.99 525.25,179.98 526.55,179.96 527.86,179.95 529.16,179.94 530.46,179.92 531.77,179.91 533.07,179.89 534.38,179.88 535.68,179.87 536.98,179.85 538.29,179.84 539.59,179.83 540.9,179.81 542.2,179.8" fill="none" stroke="#2d6de0" stroke-width="1.4" stroke-dasharray="3.5 1 1.5 1" stroke-linejoin="round"/>
<polyline points="308.1,179.6 336.5,179.6 340.3,212 342.8,242.1 344.2,228 345.8,227.3 348.3,228.8 355.6,222.4 360.9,218.1 364.5,217.5 381.7,224 389.2,226.4 404,228.8 406.7,212.7 408.9,205.9 410.4,199.7 417.8,189.5 427.1,184.8 445.7,181.5 464.2,180.2 542.2,179.8" fill="none" stroke="#ee3a3a" stroke-width="1.3" stroke-linejoin="round"/>
<polygon points="345,226.19 345.82,226.38 346.65,226.65 347.48,226.72 348.3,227.49 349.21,226.33 350.12,225.74 351.04,224.67 351.95,224.04 352.86,223.12 353.78,222.55 354.69,221.13 355.6,220.95 356.48,220.01 357.37,219.65 358.25,218.11 359.13,217.97 360.02,217.41 360.9,216.62 361.8,216 362.7,216.36 363.6,215.53 364.5,216.14 365.41,216.47 366.31,216.74 367.22,216.72 368.12,217.59 369.03,217.02 369.93,218.29 370.84,217.88 371.74,218.78 372.65,218.37 373.55,219.64 374.46,219.92 375.36,220.3 376.27,220.57 377.17,220.88 378.08,221.35 378.98,221.4 379.89,221.29 380.79,222.09 381.7,222.36 382.64,222.85 383.57,222.6 384.51,223.34 385.45,223.19 386.39,224.14 387.32,224.1 388.26,224.63 389.2,224.51 390.12,225.15 391.05,225.21 391.97,225.3 392.9,224.74 393.82,225.56 394.75,225.81 395.68,226.03 396.6,226.08 397.52,226.43 398.45,226.05 399.38,226.6 400.3,226.04 401.23,226.88 402.15,227.07 403.07,227.3 404,226.8 404,230.14 403.07,229.96 402.15,230.03 401.23,229.91 400.3,229.79 399.38,230.26 398.45,229.38 397.52,229.08 396.6,229.04 395.68,229.74 394.75,228.66 393.82,228.67 392.9,228.5 391.97,228.86 391.05,228.05 390.12,228.2 389.2,227.97 388.26,227.66 387.32,227.31 386.39,227.74 385.45,226.53 384.51,226.59 383.57,226.15 382.64,226.54 381.7,225.52 380.79,225.85 379.89,224.92 378.98,224.41 378.08,224.22 377.17,223.65 376.27,223.44 375.36,223.75 374.46,222.8 373.55,222.4 372.65,222.11 371.74,221.64 370.84,221.54 369.93,221.42 369.03,220.75 368.12,220.85 367.22,220.02 366.31,219.62 365.41,219.49 364.5,219.6 363.6,219.12 362.7,219.94 361.8,219.3 360.9,220.33 360.02,220.37 359.13,221.36 358.25,221.64 357.37,223.21 356.48,223 355.6,224.28 354.69,224.68 353.78,225.8 352.86,226.13 351.95,227.72 351.04,227.75 350.12,229.26 349.21,229.56 348.3,230.53 347.48,229.92 346.65,230.24 345.82,229.26 345,229.5" fill="#ee3a3a" stroke="#ee3a3a" stroke-width="0.5" stroke-linejoin="round"/>
</g>
<rect x="308.1" y="161.4" width="234.1" height="106.2" fill="none" stroke="#222" stroke-width="1.4"/>
<line x1="335.7" y1="267.6" x2="335.7" y2="265.1" stroke="#222" stroke-width="1"/>
<text x="335.7" y="277.3" font-family="Liberation Serif" font-size="9" text-anchor="middle" fill="#2a2a2a" >1.0</text>
<line x1="404.5" y1="267.6" x2="404.5" y2="265.1" stroke="#222" stroke-width="1"/>
<text x="404.5" y="277.3" font-family="Liberation Serif" font-size="9" text-anchor="middle" fill="#2a2a2a" >1.5</text>
<line x1="473.3" y1="267.6" x2="473.3" y2="265.1" stroke="#222" stroke-width="1"/>
<text x="473.3" y="277.3" font-family="Liberation Serif" font-size="9" text-anchor="middle" fill="#2a2a2a" >2.0</text>
<line x1="542.1" y1="267.6" x2="542.1" y2="265.1" stroke="#222" stroke-width="1"/>
<text x="542.1" y="277.3" font-family="Liberation Serif" font-size="9" text-anchor="middle" fill="#2a2a2a" >2.5</text>
<line x1="370.1" y1="267.6" x2="370.1" y2="266.1" stroke="#222" stroke-width="1"/>
<line x1="438.9" y1="267.6" x2="438.9" y2="266.1" stroke="#222" stroke-width="1"/>
<line x1="507.7" y1="267.6" x2="507.7" y2="266.1" stroke="#222" stroke-width="1"/>
<line x1="308.1" y1="267.6" x2="310.6" y2="267.6" stroke="#222" stroke-width="1"/>
<text x="305.9" y="270.6" font-family="Liberation Serif" font-size="9" text-anchor="end" fill="#2a2a2a" >0.5</text>
<line x1="308.1" y1="179.2" x2="310.6" y2="179.2" stroke="#222" stroke-width="1"/>
<text x="305.9" y="182.2" font-family="Liberation Serif" font-size="9" text-anchor="end" fill="#2a2a2a" >1.0</text>
<line x1="308.1" y1="223.4" x2="309.6" y2="223.4" stroke="#222" stroke-width="1"/>
<text x="292.5" y="215.1" font-family="Liberation Serif" font-size="8.3" text-anchor="middle" fill="#2a2a2a" transform="rotate(-90 292.5 215.1)">The current command/p.u.</text>
<text x="425.5" y="283.6" font-family="Liberation Serif" font-size="8.8" text-anchor="middle" fill="#2a2a2a" >t/s</text>
<rect x="490.4" y="188.6" width="51.8" height="42.6" fill="#fff" stroke="#aaa" stroke-width="1"/>
<line x1="491.2" y1="193.9" x2="510.4" y2="193.9" stroke="#555" stroke-width="1.3" stroke-dasharray="1.2 2.6"/>
<text x="512.4" y="196.9" font-family="Liberation Serif" font-size="8.0" text-anchor="start" fill="#222" >Method1</text>
<line x1="491.2" y1="204.6" x2="510.4" y2="204.6" stroke="#3cb878" stroke-width="1.3" stroke-dasharray="1.3 1.9"/>
<text x="512.4" y="207.6" font-family="Liberation Serif" font-size="8.0" text-anchor="start" fill="#222" >Method2</text>
<line x1="491.2" y1="215.1" x2="510.4" y2="215.1" stroke="#3a7ae8" stroke-width="1.4" stroke-dasharray="3.5 2 1.5 2"/>
<text x="512.4" y="218.1" font-family="Liberation Serif" font-size="8.0" text-anchor="start" fill="#222" >Method3</text>
<line x1="491.2" y1="225.2" x2="510.4" y2="225.2" stroke="#ee3a3a" stroke-width="1.3"/>
<text x="512.4" y="228.2" font-family="Liberation Serif" font-size="8.0" text-anchor="start" fill="#222" >Method4</text>
<text x="336.6" y="155.5" font-family="Liberation Sans" font-size="9" fill="#2a2a2a" stroke="#2a2a2a" stroke-width="0.1" textLength="16.4" lengthAdjust="spacing">(d)</text>
<text x="358.2" y="155.5" font-family="Liberation Sans" font-size="9" fill="#2a2a2a" stroke="#2a2a2a" stroke-width="0.12" textLength="149.3" lengthAdjust="spacing">The current command of VDCOL</text>
<defs><clipPath id="ce"><rect x="29" y="306.2" width="233.7" height="106"/></clipPath></defs>
<g clip-path="url(#ce)">
<line x1="29" y1="364.7" x2="262.7" y2="364.7" stroke="#777" stroke-width="1" stroke-dasharray="4 3.5"/>
<polyline points="29,360.5 30.19,360.5 31.37,360.5 32.56,360.5 33.75,360.5 34.93,360.5 36.12,360.5 37.31,360.5 38.5,360.5 39.68,360.5 40.87,360.5 42.06,360.5 43.24,360.5 44.43,360.5 45.62,360.5 46.8,360.5 47.99,360.5 49.18,360.5 50.37,360.5 51.55,360.5 52.74,360.5 53.93,360.5 55.11,360.5 56.3,360.5 57.25,340.75 58.2,321 60,404.3 61.2,406.65 62.4,408.59 63.7,404.5 65,399.46 66.17,397.18 67.33,392.9 68.5,390.08 69.62,389.68 70.75,387.84 71.88,387.75 73,386.37 74.2,386.18 75.4,386.41 76.6,386.44 77.8,386.18 79,387.29 80.16,386.4 81.31,387.39 82.47,387.23 83.62,385.97 84.78,386.39 85.93,386.8 87.09,387.39 88.24,386.43 89.4,387.19 90.61,386.87 91.83,387.62 93.04,387.92 94.25,387.74 95.46,386.91 96.68,387.9 97.89,387.47 99.1,388.18 100.32,387.68 101.53,388.46 102.74,388.66 103.95,388.49 105.17,388.57 106.38,388.64 107.59,388.36 108.81,387.77 110.02,389.15 111.23,388.39 112.45,387.76 113.66,388.51 114.87,388.56 116.08,388.3 117.3,389.59 118.51,388.31 119.72,389.66 120.94,389.18 122.15,388.66 123.36,389.03 124.57,389.26 125.79,388.81 127,389.92 128.33,388.74 129.67,388.27 131,387.03 132.2,383.99 133.4,381.36 134.6,378.29 135.68,377.11 136.76,376.22 137.84,375.48 138.92,375.22 140,374.68 141.22,374.03 142.44,373.54 143.66,371.74 144.88,371.87 146.1,370.84 147.32,371.2 148.55,370.75 149.78,370.28 151,370.32 152.22,368.87 153.45,369.24 154.68,368.58 155.9,367.54 157.08,368.63 158.26,367.02 159.44,367.54 160.62,367.52 161.8,367.49 162.98,367.97 164.16,367.15 165.34,367.55 166.52,366.47 167.7,366.64 168.88,365.97 170.06,366.62 171.24,366.14 172.42,366.59 173.6,365.38 174.8,365.83 176,366.5 177.2,364.87 178.4,365.79 179.6,365.7 180.8,365.66 182,365.28 183.2,365.07 184.4,365.69 185.6,364.49 186.8,365.04 188,364.87 189.2,364.91 190.4,364.44 191.6,363.65 192.8,364.8 194,363.95 195.2,364.69 196.4,364.96 197.6,364.56 198.8,363.9 200,364.57 201.21,363.78 202.41,363.64 203.62,364 204.82,364.09 206.03,364.11 207.23,363.85 208.44,363.58 209.65,364.08 210.85,363.37 212.06,363.79 213.26,362.79 214.47,362.95 215.68,364.09 216.88,363.01 218.09,363.28 219.29,362.67 220.5,363.77 221.7,363.03 222.91,362.55 224.12,362.87 225.32,363.88 226.53,363.56 227.73,362.32 228.94,363.8 230.14,362.35 231.35,362.97 232.56,363.02 233.76,363.38 234.97,362.31 236.17,363.37 237.38,362.45 238.58,363.15 239.79,363.41 241,362.84 242.2,361.86 243.41,362.88 244.61,362.47 245.82,362.91 247.02,362.96 248.23,361.83 249.44,362.53 250.64,362.61 251.85,363.03 253.05,362.49 254.26,362.45 255.47,362.66 256.67,361.65 257.88,362.73 259.08,362.25 260.29,362.29 261.49,361.49 262.7,362" fill="none" stroke="#2ea35c" stroke-width="1.1" stroke-linejoin="round"/>
<polyline points="29,360 30.01,360 31.02,360 32.03,360 33.04,360 34.06,360 35.07,360 36.08,360 37.09,360 38.1,360 39.11,360 40.12,360 41.13,360 42.14,360 43.16,360 44.17,360 45.18,360 46.19,360 47.2,360 48.21,360 49.22,360 50.23,360 51.24,360 52.26,360 53.27,360 54.28,360 55.29,360 56.3,360 57.25,340.5 58.2,321 59.1,362.65 60,404.3 61.2,407.65 62.4,411 63.27,406.67 64.13,402.33 65,398 65.88,394.75 66.75,389.72 67.62,389.03 68.5,383.5 69.75,381.24 71,373.26 72.2,372.16 73.1,371.79 74,376.89 75,377.01 76,382.77 77,383.48 78,388.29 79,388.6 80,390.09 81,387.53 82,388.73 83.06,386.63 84.11,387.76 85.17,385.32 86.23,386.73 87.29,383.58 88.34,385.74 89.4,382.35 90.36,385.83 91.33,382.59 92.29,386.15 93.25,383.2 94.22,386.13 95.18,383.15 96.15,386.26 97.11,384.22 98.07,386.51 99.04,384.07 100,386.41 101,384.81 102,386.68 103,384.42 104,387.62 105,384.72 106,387.46 107,385.66 108,387.26 109,385.24 110,388.09 111,385.71 112,387.96 113,386.33 114,388.23 115,386.59 116,388.94 117,386.65 118,389.15 119,386.78 120,389.4 121,386.7 122,389.91 123,387.6 124,390.37 125,387.1 126,390.48 127,387.79 128,388.75 129,383.4 130,383.98 131,381 132.07,378.17 133.13,375.33 134.2,372.5 135.17,372.33 136.13,372.17 137.1,372 138.07,371.83 139.03,371.67 140,371.5 141,371.14 142,370.79 143,370.43 144,370.07 145,369.71 146,369.36 147,369 148,368.8 149,368.6 150,368.4 151,368.2 152,368 153,367.8 154,367.6 155,367.4 156,367.2 157,367.11 158,367.02 159,366.93 160,366.84 161,366.75 162,366.66 163,366.57 164,366.48 165,366.39 166,366.31 167,366.22 168,366.13 169,366.04 170,365.95 171,365.86 172,365.77 173,365.68 174,365.59 175,365.5 176,365.39 177,365.28 178,365.18 179,365.07 180,364.96 181,364.85 182,364.74 183,364.64 184,364.53 185,364.42 186,364.31 187,364.2 188,364.1 189,363.99 190,363.88 191,363.77 192,363.66 193,363.56 194,363.45 195,363.34 196,363.23 197,363.12 198,363.02 199,362.91 200,362.8 201,362.77 201.99,362.74 202.99,362.71 203.98,362.69 204.98,362.66 205.97,362.63 206.97,362.6 207.96,362.57 208.96,362.54 209.95,362.51 210.95,362.49 211.94,362.46 212.94,362.43 213.93,362.4 214.93,362.37 215.92,362.34 216.92,362.31 217.91,362.29 218.91,362.26 219.9,362.23 220.9,362.2 221.9,362.17 222.89,362.14 223.89,362.11 224.88,362.09 225.88,362.06 226.87,362.03 227.87,362 228.86,361.97 229.86,361.94 230.85,361.91 231.85,361.89 232.84,361.86 233.84,361.83 234.83,361.8 235.83,361.77 236.82,361.74 237.82,361.71 238.81,361.69 239.81,361.66 240.8,361.63 241.8,361.6 242.8,361.57 243.79,361.54 244.79,361.51 245.78,361.49 246.78,361.46 247.77,361.43 248.77,361.4 249.76,361.37 250.76,361.34 251.75,361.31 252.75,361.29 253.74,361.26 254.74,361.23 255.73,361.2 256.73,361.17 257.72,361.14 258.72,361.11 259.71,361.09 260.71,361.06 261.7,361.03 262.7,361" fill="none" stroke="#2d6de0" stroke-width="1.1" stroke-linejoin="round"/>
<polyline points="29,359.6 56.3,359.6 58.2,321 60,404.3 62.4,409 66,395 72.1,356.4 77.8,409.6 83.5,362.5 89.9,408.4 94.4,377.2 102,390.5 110,386 126.3,388 131.3,379 140,372 160,367 190,364 262.7,361.5" fill="none" stroke="#444" stroke-width="0.9" stroke-dasharray="1 1.8" stroke-linejoin="round"/>
<polyline points="29,359.6 56.3,359.6 58.2,319.5 60,404.3 61.3,408.4 62.6,403.9 64,408.4 65.5,399 67,390 68.5,385 77.1,382 89.4,383.2 127.3,386.5 128.9,384.5 131.4,378.8 133.8,374.3 137.1,372.3 139.5,370.2 143.6,369 147.7,367.8 151.8,367.2 156,366.1 160,365.3 173.6,364.5 188.2,362.3 202.7,361.5 217,360.9 262.7,360.6" fill="none" stroke="#ee3a3a" stroke-width="1.1" stroke-linejoin="round"/>
<polygon points="66.5,384.01 67.38,382.53 68.25,382.23 69.12,381.55 70,380.42 70.9,379.68 71.8,380.32 72.7,379.8 73.6,380.22 74.5,379.82 75.4,379.75 76.3,379.06 77.2,379.55 78.1,379.62 79,379.44 79.92,378.59 80.83,379.56 81.75,379.19 82.67,379.74 83.58,379.18 84.5,379.68 85.42,379.66 86.33,380.06 87.25,379.87 88.17,380.25 89.08,379.99 90,380.15 90.88,380.19 91.76,380.4 92.65,379.74 93.53,380.6 94.41,380.91 95.29,380.93 96.18,381.13 97.06,381.19 97.94,381.16 98.82,381.18 99.71,381.22 100.59,381.51 101.47,381.67 102.35,381.64 103.24,381.95 104.12,382.07 105,381.59 105.89,382.15 106.77,381.75 107.66,382.25 108.54,382.31 109.43,382.23 110.31,382.32 111.2,382.24 112.09,382.18 112.97,382.45 113.86,382.22 114.74,382.71 115.63,382.74 116.51,382.57 117.4,382.14 118.29,382.73 119.17,382.86 120.06,382.96 120.94,382.76 121.83,382.8 122.71,382.18 123.6,383.05 124.45,382.85 125.3,383.33 126.15,383.2 127,383.41 127,389.93 126.15,389.47 125.3,389.2 124.45,389.01 123.6,389.53 122.71,388.89 121.83,389.56 120.94,388.79 120.06,389.45 119.17,388.69 118.29,389.3 117.4,388.75 116.51,388.55 115.63,388.52 114.74,389.24 113.86,388.4 112.97,389.05 112.09,388.25 111.2,388.67 110.31,388.1 109.43,389.03 108.54,388.04 107.66,388.12 106.77,387.99 105.89,388.77 105,388.08 104.12,388.03 103.24,387.87 102.35,388.34 101.47,387.6 100.59,388.05 99.71,387.27 98.82,388 97.94,387.18 97.06,387.8 96.18,386.76 95.29,387.21 94.41,386.77 93.53,387.27 92.65,386.32 91.76,386.27 90.88,386.25 90,386.48 89.08,386.02 88.17,386.53 87.25,385.96 86.33,385.77 85.42,385.67 84.5,385.85 83.58,385.76 82.67,386.34 81.75,385.53 80.83,386.21 79.92,385.44 79,385.32 78.1,385.48 77.2,385.47 76.3,385.5 75.4,385.74 74.5,385.97 73.6,386.04 72.7,386.11 71.8,386.31 70.9,386.21 70,386.95 69.12,387.31 68.25,388.97 67.38,389.21 66.5,390.54" fill="#ee3a3a" stroke="#ee3a3a" stroke-width="0.5" stroke-linejoin="round"/>
<polyline points="127.3,385.96 128.9,385.15 130.15,381.18 131.4,379.38 132.6,375.88 133.8,374.8 134.9,373.05 136,373.55 137.1,371.66 138.3,371.55 139.5,369.85 140.87,370.5 142.23,368.81 143.6,369.39 144.97,368.01 146.33,368.55 147.7,367.37 149.07,368.07 150.43,367.02 151.8,367.54 153.2,366.34 154.6,367.02 156,365.69 157.33,366.39 158.67,364.87 160,365.6 161.24,364.83 162.47,365.47 163.71,364.52 164.95,365.46 166.18,364.47 167.42,365.25 168.65,364.18 169.89,365.32 171.13,364.18 172.36,365.2 173.6,364.12 174.82,364.74 176.03,363.45 177.25,364.33 178.47,363.43 179.68,363.88 180.9,362.84 182.12,363.84 183.33,362.73 184.55,363.33 185.77,362.22 186.98,362.9 188.2,361.92 189.41,362.67 190.62,361.83 191.82,362.77 193.03,361.67 194.24,362.47 195.45,361.35 196.66,362.39 197.87,361.29 199.07,362.2 200.28,360.96 201.49,361.92 202.7,361.14 203.89,361.86 205.08,360.81 206.27,361.81 207.47,360.86 208.66,361.56 209.85,360.87 211.04,361.7 212.23,360.72 213.43,361.52 214.62,360.62 215.81,361.36 217,360.54 218.2,361.55 219.41,360.34 220.61,361.36 221.81,360.49 223.01,361.49 224.22,360.34 225.42,361.18 226.62,360.48 227.82,361.51 229.03,360.41 230.23,361.27 231.43,360.48 232.63,361.44 233.84,360.41 235.04,361.3 236.24,360.19 237.44,361.27 238.65,360.32 239.85,361.14 241.05,360.17 242.26,361.12 243.46,360.19 244.66,361.4 245.86,360.04 247.07,361.26 248.27,360.16 249.47,361.03 250.67,360.06 251.88,361.33 253.08,360.24 254.28,360.96 255.48,360.14 256.69,361.1 257.89,359.99 259.09,361.22 260.29,360.15 261.5,361.11 262.7,360.12" fill="none" stroke="#ee3a3a" stroke-width="1.3" stroke-linejoin="round"/>
</g>
<rect x="156.5" y="360.5" width="32.4" height="8.8" fill="#d0c8c8" fill-opacity="0.75" stroke="#f0a0a0" stroke-width="1"/>
<line x1="182.4" y1="368.8" x2="189.6" y2="375.2" stroke="#111" stroke-width="0.9"/>
<polygon points="192,377 187.3,375.6 190.4,372.4" fill="#111"/>
<rect x="176.6" y="376.3" width="77.7" height="31.2" fill="#fff" stroke="#888" stroke-width="0.9"/>
<line x1="177" y1="391.8" x2="254" y2="391.8" stroke="#999" stroke-width="0.7" stroke-dasharray="1 1.5"/>
<polyline points="176.7,406 178,406 179.3,406 181.6,406 183,406 185,406 187.6,405.9 190.9,406 194.1,401.7 196.9,406 199.5,400.5 202.5,398.3 205.3,403.5 208,400.7 210.8,406 212.3,403 215.6,401.7 219.3,404.8 221.6,395.2 223.7,406 226,388.7 227.6,397.9 229.9,389.6 232.3,398.8 235,387.3 237.4,403.5 239.7,385.9 242.9,398.3 245.7,391.5 248,392.3 250.8,392.9 253.6,389.1" fill="none" stroke="#5cbf85" stroke-width="0.6" stroke-dasharray="1 1" opacity="0.9" stroke-linejoin="round"/>
<polyline points="176.7,403.7 178,401.2 179.3,400.7 181.6,398.1 183,405.5 185,403.5 187.6,396.3 190.9,401.7 194.1,394.7 196.9,399.5 199.5,392.2 202.5,386.3 205.3,393.9 208,387.4 210.8,401.6 212.3,388.4 215.6,393.4 219.3,392.8 221.6,385.6 223.7,393.4 226,381.7 227.6,383.3 229.9,381.3 232.3,386.8 235,377.7 237.4,390.2 239.7,378.9 242.9,383.7 245.7,383.2 248,380.3 250.8,383.3 253.6,375.8" fill="none" stroke="#6a9ae8" stroke-width="0.7" stroke-dasharray="2 1" opacity="0.9" stroke-linejoin="round"/>
<polyline points="176.7,406.8 178,403 179.3,401.2 181.6,401.2 183,407.3 185,404 187.6,399.4 190.9,403.5 194.1,395.2 196.9,402.6 199.5,394 202.5,386.8 205.3,397 208,389.2 210.8,402.1 212.3,391.5 215.6,395.2 219.3,393.3 221.6,388.7 223.7,395.2 226,382.2 227.6,386.4 229.9,383.1 232.3,387.3 235,380.8 237.4,392 239.7,379.4 242.9,386.8 245.7,385 248,380.8 250.8,386.4 253.6,377.6" fill="none" stroke="#f05050" stroke-width="0.9" stroke-linejoin="round"/>
<text x="175.3" y="377.4" font-family="Liberation Sans" font-weight="bold" font-size="2.6" text-anchor="end" fill="#333">0.96</text>
<text x="175.3" y="385.2" font-family="Liberation Sans" font-weight="bold" font-size="2.6" text-anchor="end" fill="#333">0.94</text>
<text x="175.3" y="392.9" font-family="Liberation Sans" font-weight="bold" font-size="2.6" text-anchor="end" fill="#333">0.92</text>
<text x="175.3" y="400.6" font-family="Liberation Sans" font-weight="bold" font-size="2.6" text-anchor="end" fill="#333">0.90</text>
<text x="175.3" y="408.3" font-family="Liberation Sans" font-weight="bold" font-size="2.6" text-anchor="end" fill="#333">0.88</text>
<text x="183" y="410.5" font-family="Liberation Sans" font-weight="bold" font-size="2.8" text-anchor="middle" fill="#333">1.75</text>
<text x="200.1" y="410.5" font-family="Liberation Sans" font-weight="bold" font-size="2.8" text-anchor="middle" fill="#333">1.80</text>
<text x="216.2" y="410.5" font-family="Liberation Sans" font-weight="bold" font-size="2.8" text-anchor="middle" fill="#333">1.85</text>
<text x="233.2" y="410.5" font-family="Liberation Sans" font-weight="bold" font-size="2.8" text-anchor="middle" fill="#333">1.90</text>
<text x="250.4" y="410.5" font-family="Liberation Sans" font-weight="bold" font-size="2.8" text-anchor="middle" fill="#333">1.95</text>
<rect x="29" y="306.2" width="233.7" height="106" fill="none" stroke="#222" stroke-width="1.4"/>
<line x1="56.2" y1="412.2" x2="56.2" y2="409.7" stroke="#222" stroke-width="1"/>
<text x="56.2" y="421.9" font-family="Liberation Serif" font-size="9" text-anchor="middle" fill="#2a2a2a" >1.0</text>
<line x1="125.1" y1="412.2" x2="125.1" y2="409.7" stroke="#222" stroke-width="1"/>
<text x="125.1" y="421.9" font-family="Liberation Serif" font-size="9" text-anchor="middle" fill="#2a2a2a" >1.5</text>
<line x1="194" y1="412.2" x2="194" y2="409.7" stroke="#222" stroke-width="1"/>
<text x="194" y="421.9" font-family="Liberation Serif" font-size="9" text-anchor="middle" fill="#2a2a2a" >2.0</text>
<line x1="262.9" y1="412.2" x2="262.9" y2="409.7" stroke="#222" stroke-width="1"/>
<text x="262.9" y="421.9" font-family="Liberation Serif" font-size="9" text-anchor="middle" fill="#2a2a2a" >2.5</text>
<line x1="90.65" y1="412.2" x2="90.65" y2="410.7" stroke="#222" stroke-width="1"/>
<line x1="159.55" y1="412.2" x2="159.55" y2="410.7" stroke="#222" stroke-width="1"/>
<line x1="228.45" y1="412.2" x2="228.45" y2="410.7" stroke="#222" stroke-width="1"/>
<line x1="29" y1="412.2" x2="31.5" y2="412.2" stroke="#222" stroke-width="1"/>
<text x="26.8" y="415.2" font-family="Liberation Serif" font-size="9" text-anchor="end" fill="#2a2a2a" >0.0</text>
<line x1="29" y1="385.6" x2="31.5" y2="385.6" stroke="#222" stroke-width="1"/>
<text x="26.8" y="388.6" font-family="Liberation Serif" font-size="9" text-anchor="end" fill="#2a2a2a" >0.5</text>
<line x1="29" y1="359" x2="31.5" y2="359" stroke="#222" stroke-width="1"/>
<text x="26.8" y="362" font-family="Liberation Serif" font-size="9" text-anchor="end" fill="#2a2a2a" >1.0</text>
<line x1="29" y1="332.4" x2="31.5" y2="332.4" stroke="#222" stroke-width="1"/>
<text x="26.8" y="335.4" font-family="Liberation Serif" font-size="9" text-anchor="end" fill="#2a2a2a" >1.5</text>
<line x1="29" y1="305.8" x2="31.5" y2="305.8" stroke="#222" stroke-width="1"/>
<text x="26.8" y="308.8" font-family="Liberation Serif" font-size="9" text-anchor="end" fill="#2a2a2a" >2.0</text>
<line x1="29" y1="398.9" x2="30.5" y2="398.9" stroke="#222" stroke-width="1"/>
<line x1="29" y1="372.3" x2="30.5" y2="372.3" stroke="#222" stroke-width="1"/>
<line x1="29" y1="345.7" x2="30.5" y2="345.7" stroke="#222" stroke-width="1"/>
<line x1="29" y1="319.1" x2="30.5" y2="319.1" stroke="#222" stroke-width="1"/>
<text x="14.2" y="359.7" font-family="Liberation Serif" font-size="8.3" text-anchor="middle" fill="#2a2a2a" transform="rotate(-90 14.2 359.7)">DC power/p.u.</text>
<text x="145.5" y="427.6" font-family="Liberation Serif" font-size="8.8" text-anchor="middle" fill="#2a2a2a" >t/s</text>
<rect x="211.5" y="305.7" width="51.2" height="43.4" fill="#fff" stroke="#aaa" stroke-width="1"/>
<line x1="212.3" y1="312.1" x2="231.5" y2="312.1" stroke="#555" stroke-width="1.3" stroke-dasharray="1.2 2.6"/>
<text x="233.5" y="315.1" font-family="Liberation Serif" font-size="8.0" text-anchor="start" fill="#222" >Method1</text>
<line x1="212.3" y1="322.6" x2="231.5" y2="322.6" stroke="#3cb878" stroke-width="1.3" stroke-dasharray="1.3 1.9"/>
<text x="233.5" y="325.6" font-family="Liberation Serif" font-size="8.0" text-anchor="start" fill="#222" >Method2</text>
<line x1="212.3" y1="332.9" x2="231.5" y2="332.9" stroke="#3a7ae8" stroke-width="1.4" stroke-dasharray="3.5 2 1.5 2"/>
<text x="233.5" y="335.9" font-family="Liberation Serif" font-size="8.0" text-anchor="start" fill="#222" >Method3</text>
<line x1="212.3" y1="343.4" x2="231.5" y2="343.4" stroke="#ee3a3a" stroke-width="1.3"/>
<text x="233.5" y="346.4" font-family="Liberation Serif" font-size="8.0" text-anchor="start" fill="#222" >Method4</text>
<text x="110.6" y="299.7" font-family="Liberation Sans" font-size="8.4" fill="#2a2a2a" stroke="#2a2a2a" stroke-width="0.1" textLength="12.2" lengthAdjust="spacing">(e)</text>
<text x="130" y="299.7" font-family="Liberation Sans" font-size="8.4" fill="#2a2a2a" stroke="#2a2a2a" stroke-width="0.12" textLength="46.1" lengthAdjust="spacing">DC power</text>
<defs><clipPath id="cf"><rect x="306.3" y="306.3" width="232.9" height="106"/></clipPath></defs>
<g clip-path="url(#cf)">
<line x1="306.3" y1="402.6" x2="539.2" y2="402.6" stroke="#111" stroke-width="1.3" stroke-dasharray="4.2 3"/>
<polyline points="306.3,391.3 308.31,391.3 310.33,391.3 312.34,391.3 314.36,391.3 316.37,391.3 318.39,391.3 320.4,391.3 322.41,391.3 324.43,391.3 326.44,391.3 328.46,391.3 330.47,391.3 332.49,391.3 334.5,391.3 334.5,412 336.23,412 337.97,412 339.7,412 339.9,314.7 340.5,340 342,350 343.5,366.5 345,383 346.6,383 348.2,383 348.2,404 350,404 351,390 353,390 353,385.49 354.93,385.49 354.93,386.12 356.86,386.12 356.86,385.14 358.79,385.14 358.79,385.47 360.71,385.47 360.71,385.31 362.64,385.31 362.64,384.84 364.57,384.84 364.57,386.29 366.5,386.29 366.5,385.77 368.43,385.77 368.43,386.75 370.36,386.75 370.36,385.08 372.29,385.08 372.29,385.18 374.21,385.18 374.21,385.74 376.14,385.74 376.14,385.76 378.07,385.76 378.07,385.93 380,385.93 380,383.29 381.88,383.29 381.88,384.34 383.75,384.34 383.75,385.83 385.62,385.83 385.62,384.55 387.5,384.55 387.5,384.18 389.38,384.18 389.38,382.03 391.25,382.03 391.25,383.76 393.12,383.76 393.12,384.56 395,384.56 395,384.26 396.86,384.26 396.86,384.91 398.72,384.91 398.72,383.41 400.58,383.41 400.58,384.83 402.44,384.83 402.44,384.53 404.3,384.53 404.3,384.7 405.8,384.7 405.8,359.9 407,359.9 407,372.42 409,372.42 409,376.36 411,376.36 411,382.48 413.07,382.48 413.07,381.66 415.13,381.66 415.13,382.64 417.2,382.64 417.2,382.72 419.27,382.72 419.27,382.12 421.33,382.12 421.33,384.04 423.4,384.04 423.4,382.57 425.47,382.57 425.47,383.45 427.55,383.45 427.55,383.86 429.62,383.86 429.62,384.63 431.7,384.63 431.7,385.26 433.77,385.26 433.77,385.95 435.85,385.95 435.85,382.8 437.93,382.8 437.93,385.98 440,385.98 440,389.25 442.1,389.25 442.1,386.02 444.2,386.02 444.2,387.01 446.3,387.01 446.3,387.9 448.4,387.9 448.4,387.62 450.5,387.62 450.5,387.7 452.6,387.7 452.6,387.25 454.7,387.25 454.7,388.49 456.8,388.49 456.8,389.36 458.73,389.36 458.73,388.15 460.67,388.15 460.67,389.52 462.6,389.52 462.6,389.69 464.53,389.69 464.53,388.16 466.47,388.16 466.47,389.63 468.4,389.63 468.4,388.74 470.33,389.33 472.27,389.47 474.2,389.6 476.13,389.73 478.07,389.87 480,390 481.97,390.02 483.95,390.05 485.92,390.07 487.89,390.09 489.87,390.12 491.84,390.14 493.81,390.16 495.79,390.19 497.76,390.21 499.73,390.23 501.71,390.26 503.68,390.28 505.65,390.3 507.63,390.33 509.6,390.35 511.57,390.37 513.55,390.4 515.52,390.42 517.49,390.44 519.47,390.47 521.44,390.49 523.41,390.51 525.39,390.54 527.36,390.56 529.33,390.58 531.31,390.61 533.28,390.63 535.25,390.65 537.23,390.68 539.2,390.7" fill="none" stroke="#3cb06a" stroke-width="1.0" stroke-dasharray="1.5 1" stroke-linejoin="round"/>
<polyline points="306.3,391.3 307.31,391.3 308.31,391.3 309.32,391.3 310.33,391.3 311.34,391.3 312.34,391.3 313.35,391.3 314.36,391.3 315.36,391.3 316.37,391.3 317.38,391.3 318.39,391.3 319.39,391.3 320.4,391.3 321.41,391.3 322.41,391.3 323.42,391.3 324.43,391.3 325.44,391.3 326.44,391.3 327.45,391.3 328.46,391.3 329.46,391.3 330.47,391.3 331.48,391.3 332.49,391.3 333.49,391.3 334.5,391.3 334.5,412 335.54,412 336.58,412 337.62,412 338.66,412 339.7,412 339.9,321 340.5,336 341,347.2 342.15,347.2 343.3,347.2 344.4,365.1 345.5,383 346.9,383 346.9,408 347.77,408 348.63,408 349.5,408 349.5,392 350.48,392 351.45,392 352.42,392 353.4,392 353.4,374.8 354.27,374.8 355.13,374.8 356,374.8 356,383.3 357,383.3 357,385.02 358,385.02 358,383.29 359,383.29 359,383.02 360,383.02 360,382.48 361,382.48 361,378.82 362,378.82 362,383.66 363,383.66 363,383.18 364,383.18 364,378.24 365,378.24 365,383.94 366,383.94 366,379.17 367,379.17 367,379.58 368,379.58 368,376.58 369,376.58 369,384.18 370,384.18 370,380.35 371,380.35 371,385.15 372,385.15 372,374.9 373,374.9 373,386.2 374,386.2 374,387.36 375,387.36 375,384.48 376,384.48 376,380.17 377,380.17 377,376.96 378,376.96 378,382.75 379,382.75 379,384.87 380,384.87 380,384.63 381,384.63 381,383.48 382,383.48 382,389.64 383,389.64 383,376 384,376 384,382.07 385,382.07 385,386.4 386,386.4 386,383.48 387,383.48 387,382.25 388,382.25 388,387.91 389,387.91 389,373.16 390,373.16 390,385.18 391,385.18 391,387.48 392,387.48 392,378.05 393,378.05 393,387.88 394,387.88 394,384.97 395,384.97 395,381.42 396.03,381.42 396.03,376.95 397.07,376.95 397.07,382.56 398.1,382.56 398.1,383.58 399.13,383.58 399.13,383.44 400.17,383.44 400.17,383.01 401.2,383.01 401.2,382.89 402.23,382.89 402.23,375.6 403.27,375.6 403.27,383.47 404.3,382 405.6,358 407,368 408,372 409,376 410,378.5 411,381 412.03,381.17 413.07,381.33 414.1,381.5 415.13,381.67 416.17,381.83 417.2,382 418.23,382.17 419.27,382.33 420.3,382.5 421.33,382.67 422.37,382.83 423.4,383 424.38,383.21 425.35,383.41 426.33,383.62 427.31,383.82 428.28,384.03 429.26,384.24 430.24,384.44 431.21,384.65 432.19,384.85 433.16,385.06 434.14,385.26 435.12,385.47 436.09,385.68 437.07,385.88 438.05,386.09 439.02,386.29 440,386.5 440.99,386.59 441.98,386.68 442.96,386.76 443.95,386.85 444.94,386.94 445.93,387.03 446.92,387.12 447.91,387.21 448.89,387.29 449.88,387.38 450.87,387.47 451.86,387.56 452.85,387.65 453.84,387.74 454.82,387.82 455.81,387.91 456.8,388 457.81,388.09 458.82,388.17 459.83,388.26 460.83,388.35 461.84,388.43 462.85,388.52 463.86,388.61 464.87,388.7 465.88,388.78 466.89,388.87 467.9,388.96 468.9,389.04 469.91,389.13 470.92,389.22 471.93,389.3 472.94,389.39 473.95,389.48 474.96,389.57 475.97,389.65 476.97,389.74 477.98,389.83 478.99,389.91 480,390 481,390.01 482.01,390.02 483.01,390.04 484.01,390.05 485.02,390.06 486.02,390.07 487.02,390.08 488.03,390.09 489.03,390.11 490.03,390.12 491.04,390.13 492.04,390.14 493.04,390.15 494.05,390.17 495.05,390.18 496.05,390.19 497.06,390.2 498.06,390.21 499.06,390.23 500.07,390.24 501.07,390.25 502.07,390.26 503.08,390.27 504.08,390.28 505.08,390.3 506.09,390.31 507.09,390.32 508.09,390.33 509.1,390.34 510.1,390.36 511.11,390.37 512.11,390.38 513.11,390.39 514.12,390.4 515.12,390.42 516.12,390.43 517.13,390.44 518.13,390.45 519.13,390.46 520.14,390.47 521.14,390.49 522.14,390.5 523.15,390.51 524.15,390.52 525.15,390.53 526.16,390.55 527.16,390.56 528.16,390.57 529.17,390.58 530.17,390.59 531.17,390.61 532.18,390.62 533.18,390.63 534.18,390.64 535.19,390.65 536.19,390.66 537.19,390.68 538.2,390.69 539.2,390.7" fill="none" stroke="#2d6de0" stroke-width="0.9" stroke-dasharray="3 1 1 1" stroke-linejoin="round"/>
<polyline points="411,380.35 413.48,381.97 415.96,380.89 418.44,382.87 420.92,381.88 423.4,383.73 425.77,382.9 428.14,384.78 430.51,383.56 432.89,385.44 435.26,384.76 437.63,386.56 440,385.71 442.4,387.49 444.8,386.5 447.2,387.61 449.6,386.64 452,388.49 454.4,386.91 456.8,388.89 459.38,387.74 461.96,389.05 464.53,387.92 467.11,389.51 469.69,388.57 472.27,390.29 474.84,388.77 477.42,390.42 480,389.31 482.47,390.85 484.93,389.2 487.4,390.96 489.87,389.52 492.33,391.13 494.8,389.32 497.27,390.77 499.73,389.73 502.2,390.92 504.67,389.74 507.13,391.25 509.6,389.94 512.07,391.27 514.53,389.91 517,391.32 519.47,389.81 521.93,390.97 524.4,389.53 526.87,391.21 529.33,389.6 531.8,391.21 534.27,390.1 536.73,391.4 539.2,390.18" fill="none" stroke="#2d6de0" stroke-width="0.9" stroke-dasharray="3 1 1 1" stroke-linejoin="round"/>
<polyline points="306.3,391.3 334.5,391.3 334.5,412 339.7,412 340,330 341,350 345,383 350,392 353.4,412 355,332.7 356.6,412 360,396 364.4,412 366,325.7 367.7,412 370,382 376.6,372 382.4,377.8 390,383 400,383 420,382 440,386 480,389.5 539.2,390.5" fill="none" stroke="#444" stroke-width="0.9" stroke-dasharray="1 1.8" stroke-linejoin="round"/>
<polyline points="306.3,391.3 334.5,391.3 334.5,412 339.7,412 339.7,336.2 340.6,336.2 340.6,361.8 342.3,361.8 342.3,372.9 343.6,372.9 343.6,385.9 348.2,385.9 349.5,383.3 351.4,387.2 352.5,386.5 356.5,386.5 356.5,383.8 361.5,383.8 361.5,385.6 366.5,385.6 366.5,387.1 368.5,387.1 368.5,384.6 371.5,384.6 371.5,387.1 374.5,387.1 374.5,387.1 377.5,387.1 377.5,383.8 381.5,383.8 381.5,385.6 384.5,385.6 384.5,387.1 386.5,387.1 386.5,383.8 390.5,383.8 390.5,387.1 392.5,387.1 392.5,383.8 395.5,383.8 395.5,383.8 400.5,383.8 400.5,383.8 405.5,383.8 405.5,385.6 405.6,385.6 405.6,358.7 406.8,358.7 406.8,368 408.5,368 408.5,376.1 410.2,376.1 410.2,383.6 414.2,383.6 414.2,384.82 418.2,384.82 418.2,383.43 421.2,383.43 421.2,384.79 427.2,384.79 427.2,384.31 432.2,384.31 432.2,384.58 438.2,384.58 438.2,385.29 443.2,385.29 443.2,385.56 449.2,385.56 449.2,386.68 453.2,386.68 453.2,385.29 456.2,385.29 456.2,385.85 462.2,385.85 462.2,386.17 466.2,386.17 466.2,386.38 469.2,386.38 469.2,386.94 473.2,386.94 473.2,386.75 476.2,386.75 476.2,387.31 479.2,387.31 479.2,387.07 484.2,387.07 484.2,387.33 488.2,387.33 488.2,387.54 492.2,387.54 492.2,388.96 497.2,388.96 497.2,388.82 503.2,388.82 503.2,388.74 508.2,388.74 508.2,388.6 513.2,388.6 513.2,388.87 517.2,388.87 517.2,389.48 520.2,389.48 520.2,389.24 523.2,389.24 523.2,389 526.2,389 526.2,390.76 529.2,390.76 529.2,389.72 534.2,389.72 534.2,391.18 539.2,391.18 539.2,391.05" fill="none" stroke="#ee3a3a" stroke-width="1.1" stroke-linejoin="round"/>
</g>
<rect x="306.3" y="306.3" width="232.9" height="106" fill="none" stroke="#222" stroke-width="1.4"/>
<line x1="334" y1="412.3" x2="334" y2="409.8" stroke="#222" stroke-width="1"/>
<text x="334" y="422" font-family="Liberation Serif" font-size="9" text-anchor="middle" fill="#2a2a2a" >1.0</text>
<line x1="402.4" y1="412.3" x2="402.4" y2="409.8" stroke="#222" stroke-width="1"/>
<text x="402.4" y="422" font-family="Liberation Serif" font-size="9" text-anchor="middle" fill="#2a2a2a" >1.5</text>
<line x1="470.8" y1="412.3" x2="470.8" y2="409.8" stroke="#222" stroke-width="1"/>
<text x="470.8" y="422" font-family="Liberation Serif" font-size="9" text-anchor="middle" fill="#2a2a2a" >2.0</text>
<line x1="539.2" y1="412.3" x2="539.2" y2="409.8" stroke="#222" stroke-width="1"/>
<text x="539.2" y="422" font-family="Liberation Serif" font-size="9" text-anchor="middle" fill="#2a2a2a" >2.5</text>
<line x1="368.2" y1="412.3" x2="368.2" y2="410.8" stroke="#222" stroke-width="1"/>
<line x1="436.6" y1="412.3" x2="436.6" y2="410.8" stroke="#222" stroke-width="1"/>
<line x1="505" y1="412.3" x2="505" y2="410.8" stroke="#222" stroke-width="1"/>
<line x1="306.3" y1="412.3" x2="308.8" y2="412.3" stroke="#222" stroke-width="1"/>
<text x="304.1" y="415.3" font-family="Liberation Serif" font-size="9" text-anchor="end" fill="#2a2a2a" >0</text>
<line x1="306.3" y1="402.39" x2="308.8" y2="402.39" stroke="#222" stroke-width="1"/>
<text x="304.1" y="405.39" font-family="Liberation Serif" font-size="9" text-anchor="end" fill="#2a2a2a" >7</text>
<line x1="306.3" y1="384" x2="308.8" y2="384" stroke="#222" stroke-width="1"/>
<text x="304.1" y="387" font-family="Liberation Serif" font-size="9" text-anchor="end" fill="#2a2a2a" >20</text>
<line x1="306.3" y1="355.7" x2="308.8" y2="355.7" stroke="#222" stroke-width="1"/>
<text x="304.1" y="358.7" font-family="Liberation Serif" font-size="9" text-anchor="end" fill="#2a2a2a" >40</text>
<line x1="306.3" y1="327.4" x2="308.8" y2="327.4" stroke="#222" stroke-width="1"/>
<text x="304.1" y="330.4" font-family="Liberation Serif" font-size="9" text-anchor="end" fill="#2a2a2a" >60</text>
<line x1="306.3" y1="306.18" x2="308.8" y2="306.18" stroke="#222" stroke-width="1"/>
<text x="304.1" y="309.18" font-family="Liberation Serif" font-size="9" text-anchor="end" fill="#2a2a2a" >75</text>
<line x1="306.3" y1="398.15" x2="307.8" y2="398.15" stroke="#222" stroke-width="1"/>
<line x1="306.3" y1="369.85" x2="307.8" y2="369.85" stroke="#222" stroke-width="1"/>
<line x1="306.3" y1="341.55" x2="307.8" y2="341.55" stroke="#222" stroke-width="1"/>
<line x1="306.3" y1="313.25" x2="307.8" y2="313.25" stroke="#222" stroke-width="1"/>
<text x="291.8" y="358.4" font-family="Liberation Serif" font-size="8.1" text-anchor="middle" fill="#2a2a2a" transform="rotate(-90 291.8 358.4)">The extinction angle/&#176;</text>
<text x="422.7" y="427.6" font-family="Liberation Serif" font-size="8.8" text-anchor="middle" fill="#2a2a2a" >t/s</text>
<rect x="488.5" y="332.5" width="50.7" height="43" fill="#fff" stroke="#aaa" stroke-width="1"/>
<line x1="489.3" y1="338.7" x2="508.5" y2="338.7" stroke="#444" stroke-width="1.0" stroke-dasharray="2 2.3"/>
<text x="510.5" y="341.7" font-family="Liberation Serif" font-size="7.6" text-anchor="start" fill="#222" >Method1</text>
<line x1="489.3" y1="348.9" x2="508.5" y2="348.9" stroke="#5ccc9a" stroke-width="1.6" stroke-dasharray="1.4 1.3"/>
<text x="510.5" y="351.9" font-family="Liberation Serif" font-size="7.6" text-anchor="start" fill="#222" >Method2</text>
<line x1="489.3" y1="359.5" x2="508.5" y2="359.5" stroke="#3a7ae8" stroke-width="1.1" stroke-dasharray="3 2 1 2"/>
<text x="510.5" y="362.5" font-family="Liberation Serif" font-size="7.6" text-anchor="start" fill="#222" >Method3</text>
<line x1="489.3" y1="370.2" x2="508.5" y2="370.2" stroke="#f07070" stroke-width="2.0"/>
<text x="510.5" y="373.2" font-family="Liberation Serif" font-size="7.6" text-anchor="start" fill="#222" >Method4</text>
<text x="366.2" y="299.7" font-family="Liberation Sans" font-size="9.1" fill="#2a2a2a" stroke="#2a2a2a" stroke-width="0.1" textLength="12.6" lengthAdjust="spacing">(f)</text>
<text x="384.6" y="299.7" font-family="Liberation Sans" font-size="9.1" fill="#2a2a2a" stroke="#2a2a2a" stroke-width="0.12" textLength="90.4" lengthAdjust="spacing">The extinction angle</text>
</svg>
</body></html>
